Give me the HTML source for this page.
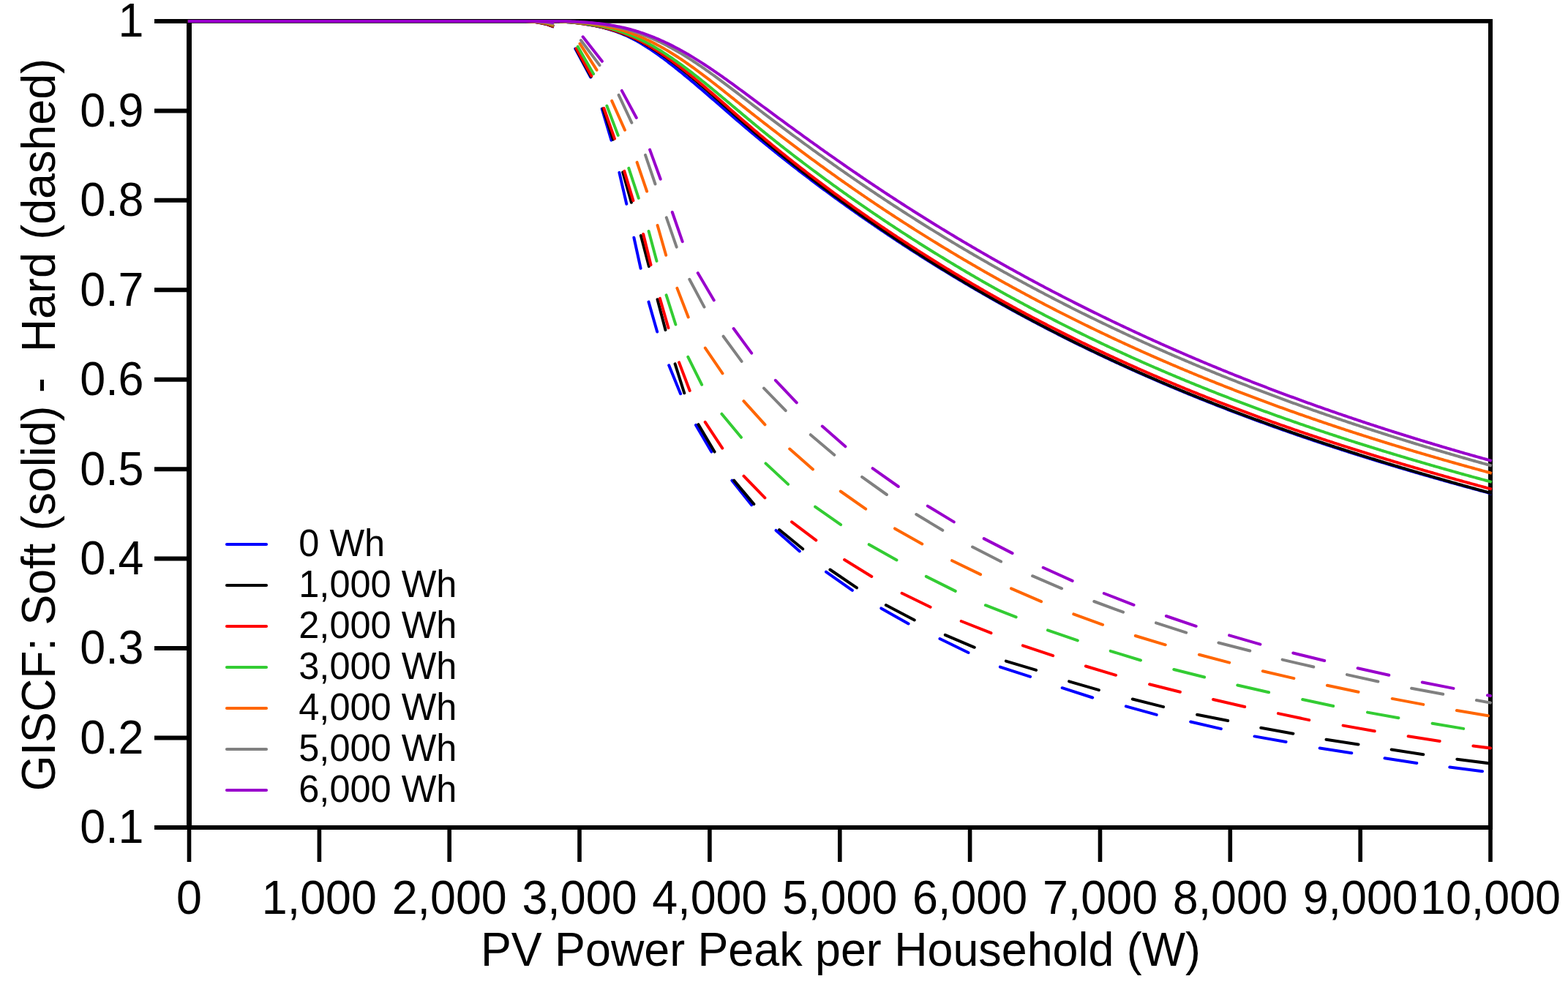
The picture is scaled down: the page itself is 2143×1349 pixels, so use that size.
<!DOCTYPE html><html><head><meta charset="utf-8"><style>html,body{margin:0;padding:0;background:#fff;}svg{display:block;}</style></head><body>
<svg width="2143" height="1349" viewBox="0 0 2143 1349">
<rect width="2143" height="1349" fill="#fff"/>
<g stroke="#000" fill="none" stroke-linecap="butt">
<line x1="258.5" y1="26.0" x2="258.5" y2="1133.9" stroke-width="7"/>
<line x1="2037.0" y1="26.0" x2="2037.0" y2="1133.9" stroke-width="6"/>
<line x1="255.0" y1="28.9" x2="2040.0" y2="28.9" stroke-width="5.9"/>
<line x1="255.0" y1="1131.0" x2="2040.0" y2="1131.0" stroke-width="5.9"/>
<line x1="211" y1="28.9" x2="258.5" y2="28.9" stroke-width="6"/>
<line x1="211" y1="151.4" x2="258.5" y2="151.4" stroke-width="6"/>
<line x1="211" y1="273.8" x2="258.5" y2="273.8" stroke-width="6"/>
<line x1="211" y1="396.3" x2="258.5" y2="396.3" stroke-width="6"/>
<line x1="211" y1="518.7" x2="258.5" y2="518.7" stroke-width="6"/>
<line x1="211" y1="641.2" x2="258.5" y2="641.2" stroke-width="6"/>
<line x1="211" y1="763.6" x2="258.5" y2="763.6" stroke-width="6"/>
<line x1="211" y1="886.1" x2="258.5" y2="886.1" stroke-width="6"/>
<line x1="211" y1="1008.5" x2="258.5" y2="1008.5" stroke-width="6"/>
<line x1="211" y1="1131.0" x2="258.5" y2="1131.0" stroke-width="6"/>
<line x1="258.5" y1="1131.0" x2="258.5" y2="1178" stroke-width="5.6"/>
<line x1="436.4" y1="1131.0" x2="436.4" y2="1178" stroke-width="5.6"/>
<line x1="614.2" y1="1131.0" x2="614.2" y2="1178" stroke-width="5.6"/>
<line x1="792.0" y1="1131.0" x2="792.0" y2="1178" stroke-width="5.6"/>
<line x1="969.9" y1="1131.0" x2="969.9" y2="1178" stroke-width="5.6"/>
<line x1="1147.8" y1="1131.0" x2="1147.8" y2="1178" stroke-width="5.6"/>
<line x1="1325.6" y1="1131.0" x2="1325.6" y2="1178" stroke-width="5.6"/>
<line x1="1503.5" y1="1131.0" x2="1503.5" y2="1178" stroke-width="5.6"/>
<line x1="1681.3" y1="1131.0" x2="1681.3" y2="1178" stroke-width="5.6"/>
<line x1="1859.2" y1="1131.0" x2="1859.2" y2="1178" stroke-width="5.6"/>
<line x1="2037.0" y1="1131.0" x2="2037.0" y2="1178" stroke-width="5.6"/>
</g>
<g font-family="'Liberation Sans', Arial, Helvetica, sans-serif" fill="#000">
<text transform="translate(196.5,50.2) scale(1,1.04)" text-anchor="end" font-size="62.8" xml:space="preserve">1</text>
<text transform="translate(196.5,172.7) scale(1,1.04)" text-anchor="end" font-size="62.8" xml:space="preserve">0.9</text>
<text transform="translate(196.5,295.1) scale(1,1.04)" text-anchor="end" font-size="62.8" xml:space="preserve">0.8</text>
<text transform="translate(196.5,417.6) scale(1,1.04)" text-anchor="end" font-size="62.8" xml:space="preserve">0.7</text>
<text transform="translate(196.5,540.0) scale(1,1.04)" text-anchor="end" font-size="62.8" xml:space="preserve">0.6</text>
<text transform="translate(196.5,662.5) scale(1,1.04)" text-anchor="end" font-size="62.8" xml:space="preserve">0.5</text>
<text transform="translate(196.5,784.9) scale(1,1.04)" text-anchor="end" font-size="62.8" xml:space="preserve">0.4</text>
<text transform="translate(196.5,907.4) scale(1,1.04)" text-anchor="end" font-size="62.8" xml:space="preserve">0.3</text>
<text transform="translate(196.5,1029.8) scale(1,1.04)" text-anchor="end" font-size="62.8" xml:space="preserve">0.2</text>
<text transform="translate(196.5,1152.3) scale(1,1.04)" text-anchor="end" font-size="62.8" xml:space="preserve">0.1</text>
<text transform="translate(258.5,1249.3) scale(1,1.04)" text-anchor="middle" font-size="62.8" xml:space="preserve">0</text>
<text transform="translate(436.4,1249.3) scale(1,1.04)" text-anchor="middle" font-size="62.8" xml:space="preserve">1,000</text>
<text transform="translate(614.2,1249.3) scale(1,1.04)" text-anchor="middle" font-size="62.8" xml:space="preserve">2,000</text>
<text transform="translate(792.0,1249.3) scale(1,1.04)" text-anchor="middle" font-size="62.8" xml:space="preserve">3,000</text>
<text transform="translate(969.9,1249.3) scale(1,1.04)" text-anchor="middle" font-size="62.8" xml:space="preserve">4,000</text>
<text transform="translate(1147.8,1249.3) scale(1,1.04)" text-anchor="middle" font-size="62.8" xml:space="preserve">5,000</text>
<text transform="translate(1325.6,1249.3) scale(1,1.04)" text-anchor="middle" font-size="62.8" xml:space="preserve">6,000</text>
<text transform="translate(1503.5,1249.3) scale(1,1.04)" text-anchor="middle" font-size="62.8" xml:space="preserve">7,000</text>
<text transform="translate(1681.3,1249.3) scale(1,1.04)" text-anchor="middle" font-size="62.8" xml:space="preserve">8,000</text>
<text transform="translate(1859.2,1249.3) scale(1,1.04)" text-anchor="middle" font-size="62.8" xml:space="preserve">9,000</text>
<text transform="translate(2037.0,1249.3) scale(1,1.04)" text-anchor="middle" font-size="62.8" xml:space="preserve">10,000</text>
<text transform="translate(1148.9,1320.4) scale(1,1.04)" text-anchor="middle" font-size="62.8" xml:space="preserve">PV Power Peak per Household (W)</text>
<text transform="translate(75.0,580.6) rotate(-90) scale(1,1.04)" text-anchor="middle" font-size="62.8" xml:space="preserve">GISCF: Soft (solid) -  Hard (dashed)</text>
</g>
<g fill="none" stroke-width="4" stroke-linejoin="round">
<path d="M256.9 28.9 L740.0 28.90 L742.0 28.90 L744.0 28.90 L746.0 28.90 L748.0 28.90 L750.0 28.90 L752.0 28.90 L754.0 28.95 L756.0 29.02 L758.0 29.10 L760.0 29.19 L762.0 29.28 L764.0 29.38 L766.0 29.49 L768.0 29.61 L770.0 29.73 L772.0 29.87 L774.0 30.02 L776.0 30.17 L778.0 30.33 L780.0 30.51 L782.0 30.69 L784.0 30.89 L786.0 31.10 L788.0 31.31 L790.0 31.54 L792.0 31.78 L794.0 32.04 L796.0 32.30 L798.0 32.58 L800.0 32.88 L802.0 33.18 L804.0 33.50 L806.0 33.84 L808.0 34.20 L810.0 34.56 L812.0 34.95 L814.0 35.36 L816.0 35.78 L818.0 36.22 L820.0 36.68 L822.0 37.16 L824.0 37.66 L826.0 38.18 L828.0 38.72 L830.0 39.28 L832.0 39.86 L834.0 40.47 L836.0 41.10 L838.0 41.75 L840.0 42.43 L842.0 43.14 L844.0 43.86 L846.0 44.62 L848.0 45.40 L850.0 46.21 L852.0 47.04 L854.0 47.90 L856.0 48.79 L858.0 49.71 L860.0 50.66 L862.0 51.64 L864.0 52.65 L866.0 53.69 L868.0 54.76 L870.0 55.85 L872.0 56.97 L874.0 58.12 L876.0 59.29 L878.0 60.49 L880.0 61.71 L882.0 62.95 L884.0 64.22 L886.0 65.51 L888.0 66.82 L890.0 68.16 L892.0 69.51 L894.0 70.88 L896.0 72.28 L898.0 73.69 L900.0 75.11 L902.0 76.56 L904.0 78.02 L906.0 79.49 L908.0 80.98 L910.0 82.49 L912.0 84.01 L914.0 85.54 L916.0 87.08 L918.0 88.64 L920.0 90.21 L922.0 91.78 L924.0 93.37 L926.0 94.97 L928.0 96.57 L930.0 98.19 L932.0 99.81 L934.0 101.44 L936.0 103.08 L938.0 104.73 L940.0 106.39 L942.0 108.05 L944.0 109.72 L946.0 111.40 L948.0 113.08 L950.0 114.77 L952.0 116.46 L954.0 118.16 L956.0 119.86 L958.0 121.57 L960.0 123.29 L962.0 125.00 L964.0 126.73 L966.0 128.45 L968.0 130.18 L970.0 131.91 L972.0 133.64 L974.0 135.38 L976.0 137.11 L978.0 138.85 L980.0 140.59 L982.0 142.33 L984.0 144.07 L986.0 145.81 L988.0 147.55 L990.0 149.29 L992.0 151.03 L994.0 152.77 L996.0 154.51 L998.0 156.24 L1000.0 157.98 L1002.0 159.71 L1004.0 161.43 L1006.0 163.16 L1008.0 164.88 L1010.0 166.60 L1012.0 168.31 L1014.0 170.02 L1016.0 171.73 L1018.0 173.43 L1020.0 175.13 L1022.0 176.82 L1024.0 178.51 L1026.0 180.19 L1028.0 181.87 L1030.0 183.54 L1032.0 185.21 L1034.0 186.87 L1036.0 188.53 L1038.0 190.19 L1040.0 191.84 L1042.0 193.49 L1044.0 195.13 L1046.0 196.77 L1048.0 198.41 L1050.0 200.04 L1052.0 201.66 L1054.0 203.28 L1056.0 204.90 L1058.0 206.52 L1060.0 208.13 L1062.0 209.73 L1064.0 211.33 L1066.0 212.93 L1068.0 214.52 L1070.0 216.11 L1072.0 217.69 L1074.0 219.27 L1076.0 220.85 L1078.0 222.42 L1080.0 223.99 L1082.0 225.56 L1084.0 227.12 L1086.0 228.68 L1088.0 230.23 L1090.0 231.78 L1092.0 233.32 L1094.0 234.86 L1096.0 236.40 L1098.0 237.94 L1100.0 239.47 L1102.0 240.99 L1104.0 242.51 L1106.0 244.03 L1108.0 245.55 L1110.0 247.06 L1112.0 248.57 L1114.0 250.07 L1116.0 251.57 L1118.0 253.07 L1120.0 254.56 L1122.0 256.05 L1124.0 257.54 L1126.0 259.02 L1128.0 260.50 L1130.0 261.98 L1132.0 263.45 L1134.0 264.92 L1136.0 266.38 L1138.0 267.84 L1140.0 269.30 L1142.0 270.76 L1144.0 272.21 L1146.0 273.66 L1148.0 275.10 L1150.0 276.54 L1152.0 277.98 L1154.0 279.42 L1156.0 280.85 L1158.0 282.28 L1160.0 283.70 L1162.0 285.13 L1164.0 286.55 L1166.0 287.96 L1168.0 289.37 L1170.0 290.78 L1172.0 292.19 L1174.0 293.59 L1176.0 294.99 L1178.0 296.39 L1180.0 297.78 L1182.0 299.17 L1184.0 300.56 L1186.0 301.94 L1188.0 303.32 L1190.0 304.70 L1192.0 306.08 L1194.0 307.45 L1196.0 308.81 L1198.0 310.18 L1200.0 311.54 L1202.0 312.90 L1204.0 314.26 L1206.0 315.61 L1208.0 316.96 L1210.0 318.30 L1212.0 319.65 L1214.0 320.99 L1216.0 322.32 L1218.0 323.66 L1220.0 324.99 L1222.0 326.31 L1224.0 327.64 L1226.0 328.96 L1228.0 330.28 L1230.0 331.59 L1232.0 332.91 L1234.0 334.22 L1236.0 335.52 L1238.0 336.82 L1240.0 338.13 L1242.0 339.42 L1244.0 340.72 L1246.0 342.01 L1248.0 343.30 L1250.0 344.58 L1252.0 345.86 L1254.0 347.14 L1256.0 348.42 L1258.0 349.69 L1260.0 350.96 L1262.0 352.23 L1264.0 353.49 L1266.0 354.75 L1268.0 356.01 L1270.0 357.27 L1272.0 358.52 L1274.0 359.77 L1276.0 361.02 L1278.0 362.26 L1280.0 363.50 L1282.0 364.74 L1284.0 365.97 L1286.0 367.20 L1288.0 368.43 L1290.0 369.66 L1292.0 370.88 L1294.0 372.10 L1296.0 373.32 L1298.0 374.54 L1300.0 375.75 L1302.0 376.96 L1304.0 378.16 L1306.0 379.37 L1308.0 380.57 L1310.0 381.76 L1312.0 382.96 L1314.0 384.15 L1316.0 385.34 L1318.0 386.53 L1320.0 387.71 L1322.0 388.89 L1324.0 390.07 L1326.0 391.24 L1328.0 392.42 L1330.0 393.58 L1332.0 394.75 L1334.0 395.92 L1336.0 397.08 L1338.0 398.24 L1340.0 399.39 L1342.0 400.54 L1344.0 401.69 L1346.0 402.84 L1348.0 403.99 L1350.0 405.13 L1352.0 406.27 L1354.0 407.41 L1356.0 408.54 L1358.0 409.67 L1360.0 410.80 L1362.0 411.92 L1364.0 413.05 L1366.0 414.17 L1368.0 415.29 L1370.0 416.40 L1372.0 417.51 L1374.0 418.62 L1376.0 419.73 L1378.0 420.84 L1380.0 421.94 L1382.0 423.04 L1384.0 424.13 L1386.0 425.23 L1388.0 426.32 L1390.0 427.41 L1392.0 428.49 L1394.0 429.58 L1396.0 430.66 L1398.0 431.74 L1400.0 432.81 L1402.0 433.89 L1404.0 434.96 L1406.0 436.03 L1408.0 437.09 L1410.0 438.15 L1412.0 439.21 L1414.0 440.27 L1416.0 441.33 L1418.0 442.38 L1420.0 443.43 L1422.0 444.48 L1424.0 445.52 L1426.0 446.57 L1428.0 447.61 L1430.0 448.64 L1432.0 449.68 L1434.0 450.71 L1436.0 451.74 L1438.0 452.77 L1440.0 453.80 L1442.0 454.82 L1444.0 455.84 L1446.0 456.86 L1448.0 457.87 L1450.0 458.89 L1452.0 459.90 L1454.0 460.90 L1456.0 461.91 L1458.0 462.91 L1460.0 463.91 L1462.0 464.91 L1464.0 465.91 L1466.0 466.90 L1468.0 467.89 L1470.0 468.88 L1472.0 469.87 L1474.0 470.85 L1476.0 471.84 L1478.0 472.82 L1480.0 473.79 L1482.0 474.77 L1484.0 475.74 L1486.0 476.71 L1488.0 477.68 L1490.0 478.64 L1492.0 479.61 L1494.0 480.57 L1496.0 481.52 L1498.0 482.48 L1500.0 483.43 L1502.0 484.39 L1504.0 485.33 L1506.0 486.28 L1508.0 487.23 L1510.0 488.17 L1512.0 489.11 L1514.0 490.05 L1516.0 490.98 L1518.0 491.92 L1520.0 492.85 L1522.0 493.78 L1524.0 494.70 L1526.0 495.63 L1528.0 496.55 L1530.0 497.47 L1532.0 498.39 L1534.0 499.30 L1536.0 500.21 L1538.0 501.13 L1540.0 502.03 L1542.0 502.94 L1544.0 503.85 L1546.0 504.75 L1548.0 505.65 L1550.0 506.55 L1552.0 507.44 L1554.0 508.33 L1556.0 509.23 L1558.0 510.12 L1560.0 511.00 L1562.0 511.89 L1564.0 512.77 L1566.0 513.65 L1568.0 514.53 L1570.0 515.41 L1572.0 516.28 L1574.0 517.15 L1576.0 518.02 L1578.0 518.89 L1580.0 519.76 L1582.0 520.62 L1584.0 521.48 L1586.0 522.34 L1588.0 523.20 L1590.0 524.06 L1592.0 524.91 L1594.0 525.76 L1596.0 526.61 L1598.0 527.46 L1600.0 528.31 L1602.0 529.15 L1604.0 529.99 L1606.0 530.83 L1608.0 531.67 L1610.0 532.50 L1612.0 533.34 L1614.0 534.17 L1616.0 535.00 L1618.0 535.83 L1620.0 536.65 L1622.0 537.48 L1624.0 538.30 L1626.0 539.12 L1628.0 539.93 L1630.0 540.75 L1632.0 541.56 L1634.0 542.38 L1636.0 543.19 L1638.0 543.99 L1640.0 544.80 L1642.0 545.60 L1644.0 546.41 L1646.0 547.21 L1648.0 548.01 L1650.0 548.80 L1652.0 549.60 L1654.0 550.39 L1656.0 551.18 L1658.0 551.97 L1660.0 552.76 L1662.0 553.54 L1664.0 554.33 L1666.0 555.11 L1668.0 555.89 L1670.0 556.67 L1672.0 557.44 L1674.0 558.22 L1676.0 558.99 L1678.0 559.76 L1680.0 560.53 L1682.0 561.30 L1684.0 562.06 L1686.0 562.83 L1688.0 563.59 L1690.0 564.35 L1692.0 565.11 L1694.0 565.86 L1696.0 566.62 L1698.0 567.37 L1700.0 568.12 L1702.0 568.87 L1704.0 569.62 L1706.0 570.37 L1708.0 571.11 L1710.0 571.85 L1712.0 572.59 L1714.0 573.33 L1716.0 574.07 L1718.0 574.81 L1720.0 575.54 L1722.0 576.27 L1724.0 577.00 L1726.0 577.73 L1728.0 578.46 L1730.0 579.19 L1732.0 579.91 L1734.0 580.63 L1736.0 581.35 L1738.0 582.07 L1740.0 582.79 L1742.0 583.51 L1744.0 584.22 L1746.0 584.93 L1748.0 585.64 L1750.0 586.35 L1752.0 587.06 L1754.0 587.77 L1756.0 588.47 L1758.0 589.18 L1760.0 589.88 L1762.0 590.58 L1764.0 591.27 L1766.0 591.97 L1768.0 592.67 L1770.0 593.36 L1772.0 594.05 L1774.0 594.74 L1776.0 595.43 L1778.0 596.12 L1780.0 596.80 L1782.0 597.49 L1784.0 598.17 L1786.0 598.85 L1788.0 599.53 L1790.0 600.21 L1792.0 600.89 L1794.0 601.56 L1796.0 602.24 L1798.0 602.91 L1800.0 603.58 L1802.0 604.25 L1804.0 604.92 L1806.0 605.59 L1808.0 606.25 L1810.0 606.91 L1812.0 607.58 L1814.0 608.24 L1816.0 608.90 L1818.0 609.55 L1820.0 610.21 L1822.0 610.87 L1824.0 611.52 L1826.0 612.17 L1828.0 612.82 L1830.0 613.47 L1832.0 614.12 L1834.0 614.77 L1836.0 615.41 L1838.0 616.06 L1840.0 616.70 L1842.0 617.34 L1844.0 617.98 L1846.0 618.62 L1848.0 619.26 L1850.0 619.89 L1852.0 620.53 L1854.0 621.16 L1856.0 621.79 L1858.0 622.42 L1860.0 623.05 L1862.0 623.68 L1864.0 624.31 L1866.0 624.93 L1868.0 625.56 L1870.0 626.18 L1872.0 626.80 L1874.0 627.42 L1876.0 628.04 L1878.0 628.66 L1880.0 629.28 L1882.0 629.89 L1884.0 630.51 L1886.0 631.12 L1888.0 631.73 L1890.0 632.34 L1892.0 632.95 L1894.0 633.56 L1896.0 634.16 L1898.0 634.77 L1900.0 635.37 L1902.0 635.98 L1904.0 636.58 L1906.0 637.18 L1908.0 637.78 L1910.0 638.38 L1912.0 638.98 L1914.0 639.57 L1916.0 640.17 L1918.0 640.76 L1920.0 641.35 L1922.0 641.95 L1924.0 642.54 L1926.0 643.13 L1928.0 643.71 L1930.0 644.30 L1932.0 644.89 L1934.0 645.47 L1936.0 646.06 L1938.0 646.64 L1940.0 647.22 L1942.0 647.80 L1944.0 648.38 L1946.0 648.96 L1948.0 649.54 L1950.0 650.11 L1952.0 650.69 L1954.0 651.26 L1956.0 651.84 L1958.0 652.41 L1960.0 652.98 L1962.0 653.55 L1964.0 654.12 L1966.0 654.69 L1968.0 655.26 L1970.0 655.82 L1972.0 656.39 L1974.0 656.95 L1976.0 657.51 L1978.0 658.08 L1980.0 658.64 L1982.0 659.20 L1984.0 659.76 L1986.0 660.32 L1988.0 660.87 L1990.0 661.43 L1992.0 661.99 L1994.0 662.54 L1996.0 663.09 L1998.0 663.65 L2000.0 664.20 L2002.0 664.75 L2004.0 665.30 L2006.0 665.85 L2008.0 666.40 L2010.0 666.94 L2012.0 667.49 L2014.0 668.04 L2016.0 668.58 L2018.0 669.13 L2020.0 669.67 L2022.0 670.21 L2024.0 670.75 L2026.0 671.29 L2028.0 671.83 L2030.0 672.37 L2032.0 672.91 L2034.0 673.45 L2036.0 673.98 L2037.0 674.25 L2038.9 674.77" stroke="#0000ff" stroke-linecap="butt"/>
<path d="M256.9 28.9 L740.0 28.90 L742.0 28.90 L744.0 28.90 L746.0 28.90 L748.0 28.90 L750.0 28.90 L752.0 28.90 L754.0 28.95 L756.0 29.02 L758.0 29.10 L760.0 29.18 L762.0 29.28 L764.0 29.38 L766.0 29.49 L768.0 29.60 L770.0 29.73 L772.0 29.87 L774.0 30.01 L776.0 30.16 L778.0 30.33 L780.0 30.50 L782.0 30.69 L784.0 30.88 L786.0 31.09 L788.0 31.31 L790.0 31.53 L792.0 31.78 L794.0 32.03 L796.0 32.29 L798.0 32.57 L800.0 32.86 L802.0 33.17 L804.0 33.48 L806.0 33.82 L808.0 34.16 L810.0 34.53 L812.0 34.90 L814.0 35.30 L816.0 35.71 L818.0 36.13 L820.0 36.58 L822.0 37.04 L824.0 37.51 L826.0 38.01 L828.0 38.52 L830.0 39.06 L832.0 39.61 L834.0 40.18 L836.0 40.77 L838.0 41.38 L840.0 42.01 L842.0 42.67 L844.0 43.34 L846.0 44.04 L848.0 44.76 L850.0 45.50 L852.0 46.26 L854.0 47.05 L856.0 47.86 L858.0 48.69 L860.0 49.55 L862.0 50.43 L864.0 51.34 L866.0 52.27 L868.0 53.23 L870.0 54.21 L872.0 55.22 L874.0 56.25 L876.0 57.30 L878.0 58.37 L880.0 59.47 L882.0 60.59 L884.0 61.74 L886.0 62.90 L888.0 64.09 L890.0 65.29 L892.0 66.52 L894.0 67.77 L896.0 69.04 L898.0 70.33 L900.0 71.63 L902.0 72.96 L904.0 74.30 L906.0 75.67 L908.0 77.05 L910.0 78.45 L912.0 79.86 L914.0 81.29 L916.0 82.74 L918.0 84.21 L920.0 85.69 L922.0 87.19 L924.0 88.70 L926.0 90.23 L928.0 91.77 L930.0 93.33 L932.0 94.90 L934.0 96.48 L936.0 98.08 L938.0 99.68 L940.0 101.30 L942.0 102.94 L944.0 104.58 L946.0 106.23 L948.0 107.90 L950.0 109.57 L952.0 111.26 L954.0 112.95 L956.0 114.65 L958.0 116.36 L960.0 118.08 L962.0 119.80 L964.0 121.53 L966.0 123.27 L968.0 125.01 L970.0 126.76 L972.0 128.52 L974.0 130.27 L976.0 132.04 L978.0 133.81 L980.0 135.58 L982.0 137.35 L984.0 139.13 L986.0 140.90 L988.0 142.68 L990.0 144.47 L992.0 146.25 L994.0 148.03 L996.0 149.81 L998.0 151.60 L1000.0 153.38 L1002.0 155.16 L1004.0 156.94 L1006.0 158.71 L1008.0 160.49 L1010.0 162.26 L1012.0 164.03 L1014.0 165.79 L1016.0 167.55 L1018.0 169.30 L1020.0 171.05 L1022.0 172.80 L1024.0 174.54 L1026.0 176.27 L1028.0 178.00 L1030.0 179.72 L1032.0 181.44 L1034.0 183.15 L1036.0 184.86 L1038.0 186.56 L1040.0 188.26 L1042.0 189.95 L1044.0 191.64 L1046.0 193.32 L1048.0 195.00 L1050.0 196.67 L1052.0 198.34 L1054.0 200.00 L1056.0 201.66 L1058.0 203.31 L1060.0 204.96 L1062.0 206.60 L1064.0 208.24 L1066.0 209.87 L1068.0 211.50 L1070.0 213.13 L1072.0 214.75 L1074.0 216.36 L1076.0 217.97 L1078.0 219.58 L1080.0 221.18 L1082.0 222.78 L1084.0 224.37 L1086.0 225.96 L1088.0 227.54 L1090.0 229.12 L1092.0 230.70 L1094.0 232.27 L1096.0 233.83 L1098.0 235.40 L1100.0 236.95 L1102.0 238.51 L1104.0 240.06 L1106.0 241.60 L1108.0 243.14 L1110.0 244.68 L1112.0 246.21 L1114.0 247.74 L1116.0 249.27 L1118.0 250.79 L1120.0 252.31 L1122.0 253.82 L1124.0 255.33 L1126.0 256.84 L1128.0 258.34 L1130.0 259.84 L1132.0 261.33 L1134.0 262.82 L1136.0 264.31 L1138.0 265.79 L1140.0 267.27 L1142.0 268.75 L1144.0 270.22 L1146.0 271.69 L1148.0 273.16 L1150.0 274.62 L1152.0 276.08 L1154.0 277.53 L1156.0 278.98 L1158.0 280.43 L1160.0 281.88 L1162.0 283.32 L1164.0 284.76 L1166.0 286.19 L1168.0 287.62 L1170.0 289.05 L1172.0 290.47 L1174.0 291.89 L1176.0 293.31 L1178.0 294.73 L1180.0 296.14 L1182.0 297.54 L1184.0 298.95 L1186.0 300.35 L1188.0 301.75 L1190.0 303.14 L1192.0 304.53 L1194.0 305.92 L1196.0 307.30 L1198.0 308.68 L1200.0 310.06 L1202.0 311.44 L1204.0 312.81 L1206.0 314.17 L1208.0 315.54 L1210.0 316.90 L1212.0 318.26 L1214.0 319.61 L1216.0 320.96 L1218.0 322.31 L1220.0 323.66 L1222.0 325.00 L1224.0 326.34 L1226.0 327.67 L1228.0 329.00 L1230.0 330.33 L1232.0 331.66 L1234.0 332.98 L1236.0 334.30 L1238.0 335.62 L1240.0 336.93 L1242.0 338.24 L1244.0 339.55 L1246.0 340.85 L1248.0 342.15 L1250.0 343.45 L1252.0 344.74 L1254.0 346.03 L1256.0 347.32 L1258.0 348.60 L1260.0 349.88 L1262.0 351.16 L1264.0 352.44 L1266.0 353.71 L1268.0 354.98 L1270.0 356.24 L1272.0 357.51 L1274.0 358.77 L1276.0 360.02 L1278.0 361.28 L1280.0 362.53 L1282.0 363.77 L1284.0 365.02 L1286.0 366.26 L1288.0 367.50 L1290.0 368.73 L1292.0 369.97 L1294.0 371.20 L1296.0 372.42 L1298.0 373.65 L1300.0 374.87 L1302.0 376.08 L1304.0 377.30 L1306.0 378.51 L1308.0 379.72 L1310.0 380.92 L1312.0 382.13 L1314.0 383.33 L1316.0 384.52 L1318.0 385.72 L1320.0 386.91 L1322.0 388.09 L1324.0 389.28 L1326.0 390.46 L1328.0 391.64 L1330.0 392.82 L1332.0 393.99 L1334.0 395.16 L1336.0 396.33 L1338.0 397.49 L1340.0 398.66 L1342.0 399.81 L1344.0 400.97 L1346.0 402.12 L1348.0 403.27 L1350.0 404.42 L1352.0 405.57 L1354.0 406.71 L1356.0 407.85 L1358.0 408.98 L1360.0 410.12 L1362.0 411.25 L1364.0 412.38 L1366.0 413.50 L1368.0 414.62 L1370.0 415.74 L1372.0 416.86 L1374.0 417.98 L1376.0 419.09 L1378.0 420.20 L1380.0 421.30 L1382.0 422.40 L1384.0 423.51 L1386.0 424.60 L1388.0 425.70 L1390.0 426.79 L1392.0 427.88 L1394.0 428.97 L1396.0 430.05 L1398.0 431.13 L1400.0 432.21 L1402.0 433.29 L1404.0 434.36 L1406.0 435.43 L1408.0 436.50 L1410.0 437.57 L1412.0 438.63 L1414.0 439.69 L1416.0 440.75 L1418.0 441.80 L1420.0 442.85 L1422.0 443.90 L1424.0 444.95 L1426.0 446.00 L1428.0 447.04 L1430.0 448.08 L1432.0 449.12 L1434.0 450.15 L1436.0 451.18 L1438.0 452.21 L1440.0 453.24 L1442.0 454.26 L1444.0 455.28 L1446.0 456.30 L1448.0 457.32 L1450.0 458.33 L1452.0 459.34 L1454.0 460.35 L1456.0 461.36 L1458.0 462.36 L1460.0 463.37 L1462.0 464.36 L1464.0 465.36 L1466.0 466.35 L1468.0 467.35 L1470.0 468.34 L1472.0 469.32 L1474.0 470.31 L1476.0 471.29 L1478.0 472.27 L1480.0 473.24 L1482.0 474.22 L1484.0 475.19 L1486.0 476.16 L1488.0 477.13 L1490.0 478.09 L1492.0 479.06 L1494.0 480.02 L1496.0 480.97 L1498.0 481.93 L1500.0 482.88 L1502.0 483.83 L1504.0 484.78 L1506.0 485.73 L1508.0 486.67 L1510.0 487.61 L1512.0 488.55 L1514.0 489.49 L1516.0 490.42 L1518.0 491.36 L1520.0 492.29 L1522.0 493.21 L1524.0 494.14 L1526.0 495.06 L1528.0 495.98 L1530.0 496.90 L1532.0 497.82 L1534.0 498.73 L1536.0 499.64 L1538.0 500.55 L1540.0 501.46 L1542.0 502.36 L1544.0 503.27 L1546.0 504.17 L1548.0 505.06 L1550.0 505.96 L1552.0 506.85 L1554.0 507.75 L1556.0 508.64 L1558.0 509.52 L1560.0 510.41 L1562.0 511.29 L1564.0 512.17 L1566.0 513.05 L1568.0 513.93 L1570.0 514.80 L1572.0 515.67 L1574.0 516.54 L1576.0 517.41 L1578.0 518.28 L1580.0 519.14 L1582.0 520.00 L1584.0 520.86 L1586.0 521.72 L1588.0 522.58 L1590.0 523.43 L1592.0 524.28 L1594.0 525.13 L1596.0 525.98 L1598.0 526.82 L1600.0 527.66 L1602.0 528.51 L1604.0 529.34 L1606.0 530.18 L1608.0 531.02 L1610.0 531.85 L1612.0 532.68 L1614.0 533.51 L1616.0 534.34 L1618.0 535.16 L1620.0 535.98 L1622.0 536.80 L1624.0 537.62 L1626.0 538.44 L1628.0 539.26 L1630.0 540.07 L1632.0 540.88 L1634.0 541.69 L1636.0 542.50 L1638.0 543.30 L1640.0 544.10 L1642.0 544.91 L1644.0 545.71 L1646.0 546.50 L1648.0 547.30 L1650.0 548.09 L1652.0 548.88 L1654.0 549.67 L1656.0 550.46 L1658.0 551.25 L1660.0 552.03 L1662.0 552.82 L1664.0 553.60 L1666.0 554.38 L1668.0 555.15 L1670.0 555.93 L1672.0 556.70 L1674.0 557.47 L1676.0 558.24 L1678.0 559.01 L1680.0 559.78 L1682.0 560.54 L1684.0 561.30 L1686.0 562.07 L1688.0 562.82 L1690.0 563.58 L1692.0 564.34 L1694.0 565.09 L1696.0 565.84 L1698.0 566.59 L1700.0 567.34 L1702.0 568.09 L1704.0 568.83 L1706.0 569.58 L1708.0 570.32 L1710.0 571.06 L1712.0 571.80 L1714.0 572.53 L1716.0 573.27 L1718.0 574.00 L1720.0 574.73 L1722.0 575.46 L1724.0 576.19 L1726.0 576.92 L1728.0 577.64 L1730.0 578.37 L1732.0 579.09 L1734.0 579.81 L1736.0 580.53 L1738.0 581.24 L1740.0 581.96 L1742.0 582.67 L1744.0 583.38 L1746.0 584.10 L1748.0 584.80 L1750.0 585.51 L1752.0 586.22 L1754.0 586.92 L1756.0 587.62 L1758.0 588.33 L1760.0 589.02 L1762.0 589.72 L1764.0 590.42 L1766.0 591.11 L1768.0 591.81 L1770.0 592.50 L1772.0 593.19 L1774.0 593.88 L1776.0 594.57 L1778.0 595.25 L1780.0 595.94 L1782.0 596.62 L1784.0 597.30 L1786.0 597.98 L1788.0 598.66 L1790.0 599.34 L1792.0 600.01 L1794.0 600.69 L1796.0 601.36 L1798.0 602.03 L1800.0 602.70 L1802.0 603.37 L1804.0 604.03 L1806.0 604.70 L1808.0 605.36 L1810.0 606.03 L1812.0 606.69 L1814.0 607.35 L1816.0 608.01 L1818.0 608.67 L1820.0 609.32 L1822.0 609.98 L1824.0 610.63 L1826.0 611.28 L1828.0 611.93 L1830.0 612.58 L1832.0 613.23 L1834.0 613.88 L1836.0 614.52 L1838.0 615.17 L1840.0 615.81 L1842.0 616.45 L1844.0 617.09 L1846.0 617.73 L1848.0 618.37 L1850.0 619.00 L1852.0 619.64 L1854.0 620.27 L1856.0 620.91 L1858.0 621.54 L1860.0 622.17 L1862.0 622.80 L1864.0 623.42 L1866.0 624.05 L1868.0 624.68 L1870.0 625.30 L1872.0 625.92 L1874.0 626.54 L1876.0 627.16 L1878.0 627.78 L1880.0 628.40 L1882.0 629.02 L1884.0 629.64 L1886.0 630.25 L1888.0 630.86 L1890.0 631.48 L1892.0 632.09 L1894.0 632.70 L1896.0 633.31 L1898.0 633.91 L1900.0 634.52 L1902.0 635.13 L1904.0 635.73 L1906.0 636.34 L1908.0 636.94 L1910.0 637.54 L1912.0 638.14 L1914.0 638.74 L1916.0 639.34 L1918.0 639.93 L1920.0 640.53 L1922.0 641.13 L1924.0 641.72 L1926.0 642.31 L1928.0 642.91 L1930.0 643.50 L1932.0 644.09 L1934.0 644.68 L1936.0 645.26 L1938.0 645.85 L1940.0 646.44 L1942.0 647.02 L1944.0 647.61 L1946.0 648.19 L1948.0 648.77 L1950.0 649.35 L1952.0 649.93 L1954.0 650.51 L1956.0 651.09 L1958.0 651.67 L1960.0 652.24 L1962.0 652.82 L1964.0 653.39 L1966.0 653.97 L1968.0 654.54 L1970.0 655.11 L1972.0 655.69 L1974.0 656.26 L1976.0 656.83 L1978.0 657.39 L1980.0 657.96 L1982.0 658.53 L1984.0 659.09 L1986.0 659.66 L1988.0 660.22 L1990.0 660.79 L1992.0 661.35 L1994.0 661.91 L1996.0 662.47 L1998.0 663.03 L2000.0 663.59 L2002.0 664.15 L2004.0 664.71 L2006.0 665.27 L2008.0 665.82 L2010.0 666.38 L2012.0 666.93 L2014.0 667.49 L2016.0 668.04 L2018.0 668.59 L2020.0 669.15 L2022.0 669.70 L2024.0 670.25 L2026.0 670.80 L2028.0 671.35 L2030.0 671.90 L2032.0 672.44 L2034.0 672.99 L2036.0 673.54 L2037.0 673.81 L2038.9 674.34" stroke="#000000" stroke-linecap="butt"/>
<path d="M256.9 28.9 L740.0 28.90 L742.0 28.90 L744.0 28.90 L746.0 28.90 L748.0 28.90 L750.0 28.90 L752.0 28.90 L754.0 28.93 L756.0 29.00 L758.0 29.08 L760.0 29.16 L762.0 29.25 L764.0 29.35 L766.0 29.45 L768.0 29.56 L770.0 29.69 L772.0 29.82 L774.0 29.96 L776.0 30.11 L778.0 30.27 L780.0 30.43 L782.0 30.61 L784.0 30.80 L786.0 31.00 L788.0 31.21 L790.0 31.43 L792.0 31.66 L794.0 31.91 L796.0 32.16 L798.0 32.43 L800.0 32.72 L802.0 33.01 L804.0 33.32 L806.0 33.64 L808.0 33.98 L810.0 34.33 L812.0 34.69 L814.0 35.08 L816.0 35.47 L818.0 35.89 L820.0 36.32 L822.0 36.76 L824.0 37.23 L826.0 37.71 L828.0 38.21 L830.0 38.73 L832.0 39.26 L834.0 39.82 L836.0 40.39 L838.0 40.99 L840.0 41.60 L842.0 42.24 L844.0 42.89 L846.0 43.57 L848.0 44.27 L850.0 44.99 L852.0 45.74 L854.0 46.50 L856.0 47.29 L858.0 48.10 L860.0 48.94 L862.0 49.80 L864.0 50.68 L866.0 51.59 L868.0 52.53 L870.0 53.49 L872.0 54.47 L874.0 55.48 L876.0 56.50 L878.0 57.56 L880.0 58.63 L882.0 59.73 L884.0 60.85 L886.0 61.99 L888.0 63.15 L890.0 64.33 L892.0 65.53 L894.0 66.75 L896.0 68.00 L898.0 69.26 L900.0 70.54 L902.0 71.84 L904.0 73.16 L906.0 74.49 L908.0 75.85 L910.0 77.22 L912.0 78.61 L914.0 80.01 L916.0 81.43 L918.0 82.87 L920.0 84.33 L922.0 85.79 L924.0 87.28 L926.0 88.78 L928.0 90.29 L930.0 91.82 L932.0 93.36 L934.0 94.91 L936.0 96.48 L938.0 98.06 L940.0 99.65 L942.0 101.25 L944.0 102.86 L946.0 104.49 L948.0 106.12 L950.0 107.77 L952.0 109.42 L954.0 111.08 L956.0 112.76 L958.0 114.44 L960.0 116.12 L962.0 117.82 L964.0 119.52 L966.0 121.23 L968.0 122.94 L970.0 124.67 L972.0 126.39 L974.0 128.12 L976.0 129.86 L978.0 131.60 L980.0 133.34 L982.0 135.09 L984.0 136.84 L986.0 138.59 L988.0 140.35 L990.0 142.10 L992.0 143.86 L994.0 145.62 L996.0 147.38 L998.0 149.14 L1000.0 150.89 L1002.0 152.65 L1004.0 154.41 L1006.0 156.16 L1008.0 157.92 L1010.0 159.67 L1012.0 161.41 L1014.0 163.16 L1016.0 164.90 L1018.0 166.64 L1020.0 168.37 L1022.0 170.10 L1024.0 171.82 L1026.0 173.53 L1028.0 175.25 L1030.0 176.95 L1032.0 178.66 L1034.0 180.35 L1036.0 182.04 L1038.0 183.73 L1040.0 185.41 L1042.0 187.09 L1044.0 188.76 L1046.0 190.43 L1048.0 192.09 L1050.0 193.75 L1052.0 195.40 L1054.0 197.05 L1056.0 198.69 L1058.0 200.33 L1060.0 201.96 L1062.0 203.59 L1064.0 205.22 L1066.0 206.84 L1068.0 208.45 L1070.0 210.06 L1072.0 211.67 L1074.0 213.27 L1076.0 214.87 L1078.0 216.46 L1080.0 218.05 L1082.0 219.63 L1084.0 221.21 L1086.0 222.79 L1088.0 224.36 L1090.0 225.93 L1092.0 227.49 L1094.0 229.05 L1096.0 230.60 L1098.0 232.15 L1100.0 233.70 L1102.0 235.24 L1104.0 236.78 L1106.0 238.31 L1108.0 239.84 L1110.0 241.37 L1112.0 242.89 L1114.0 244.41 L1116.0 245.92 L1118.0 247.43 L1120.0 248.94 L1122.0 250.44 L1124.0 251.94 L1126.0 253.43 L1128.0 254.93 L1130.0 256.41 L1132.0 257.90 L1134.0 259.38 L1136.0 260.85 L1138.0 262.33 L1140.0 263.80 L1142.0 265.26 L1144.0 266.73 L1146.0 268.18 L1148.0 269.64 L1150.0 271.09 L1152.0 272.54 L1154.0 273.99 L1156.0 275.43 L1158.0 276.87 L1160.0 278.30 L1162.0 279.73 L1164.0 281.16 L1166.0 282.59 L1168.0 284.01 L1170.0 285.43 L1172.0 286.84 L1174.0 288.25 L1176.0 289.66 L1178.0 291.07 L1180.0 292.47 L1182.0 293.87 L1184.0 295.26 L1186.0 296.65 L1188.0 298.04 L1190.0 299.43 L1192.0 300.81 L1194.0 302.19 L1196.0 303.57 L1198.0 304.94 L1200.0 306.31 L1202.0 307.67 L1204.0 309.03 L1206.0 310.39 L1208.0 311.75 L1210.0 313.10 L1212.0 314.45 L1214.0 315.80 L1216.0 317.14 L1218.0 318.48 L1220.0 319.82 L1222.0 321.15 L1224.0 322.48 L1226.0 323.81 L1228.0 325.13 L1230.0 326.46 L1232.0 327.77 L1234.0 329.09 L1236.0 330.40 L1238.0 331.71 L1240.0 333.01 L1242.0 334.32 L1244.0 335.61 L1246.0 336.91 L1248.0 338.20 L1250.0 339.49 L1252.0 340.78 L1254.0 342.06 L1256.0 343.34 L1258.0 344.62 L1260.0 345.90 L1262.0 347.17 L1264.0 348.43 L1266.0 349.70 L1268.0 350.96 L1270.0 352.22 L1272.0 353.48 L1274.0 354.73 L1276.0 355.98 L1278.0 357.23 L1280.0 358.47 L1282.0 359.71 L1284.0 360.95 L1286.0 362.18 L1288.0 363.42 L1290.0 364.65 L1292.0 365.87 L1294.0 367.09 L1296.0 368.31 L1298.0 369.53 L1300.0 370.75 L1302.0 371.96 L1304.0 373.17 L1306.0 374.37 L1308.0 375.57 L1310.0 376.77 L1312.0 377.97 L1314.0 379.16 L1316.0 380.35 L1318.0 381.54 L1320.0 382.73 L1322.0 383.91 L1324.0 385.09 L1326.0 386.26 L1328.0 387.44 L1330.0 388.61 L1332.0 389.78 L1334.0 390.94 L1336.0 392.10 L1338.0 393.26 L1340.0 394.42 L1342.0 395.57 L1344.0 396.72 L1346.0 397.87 L1348.0 399.02 L1350.0 400.16 L1352.0 401.30 L1354.0 402.44 L1356.0 403.57 L1358.0 404.70 L1360.0 405.83 L1362.0 406.95 L1364.0 408.08 L1366.0 409.20 L1368.0 410.32 L1370.0 411.43 L1372.0 412.54 L1374.0 413.65 L1376.0 414.76 L1378.0 415.86 L1380.0 416.96 L1382.0 418.06 L1384.0 419.16 L1386.0 420.25 L1388.0 421.34 L1390.0 422.43 L1392.0 423.51 L1394.0 424.60 L1396.0 425.68 L1398.0 426.75 L1400.0 427.83 L1402.0 428.90 L1404.0 429.97 L1406.0 431.03 L1408.0 432.10 L1410.0 433.16 L1412.0 434.22 L1414.0 435.27 L1416.0 436.33 L1418.0 437.38 L1420.0 438.43 L1422.0 439.47 L1424.0 440.52 L1426.0 441.56 L1428.0 442.59 L1430.0 443.63 L1432.0 444.66 L1434.0 445.69 L1436.0 446.72 L1438.0 447.75 L1440.0 448.77 L1442.0 449.79 L1444.0 450.81 L1446.0 451.82 L1448.0 452.84 L1450.0 453.85 L1452.0 454.85 L1454.0 455.86 L1456.0 456.86 L1458.0 457.86 L1460.0 458.86 L1462.0 459.85 L1464.0 460.85 L1466.0 461.84 L1468.0 462.83 L1470.0 463.81 L1472.0 464.79 L1474.0 465.78 L1476.0 466.75 L1478.0 467.73 L1480.0 468.70 L1482.0 469.67 L1484.0 470.64 L1486.0 471.61 L1488.0 472.57 L1490.0 473.53 L1492.0 474.49 L1494.0 475.45 L1496.0 476.40 L1498.0 477.36 L1500.0 478.31 L1502.0 479.25 L1504.0 480.20 L1506.0 481.14 L1508.0 482.08 L1510.0 483.02 L1512.0 483.96 L1514.0 484.89 L1516.0 485.82 L1518.0 486.75 L1520.0 487.68 L1522.0 488.60 L1524.0 489.52 L1526.0 490.44 L1528.0 491.36 L1530.0 492.28 L1532.0 493.19 L1534.0 494.10 L1536.0 495.01 L1538.0 495.91 L1540.0 496.82 L1542.0 497.72 L1544.0 498.62 L1546.0 499.52 L1548.0 500.41 L1550.0 501.31 L1552.0 502.20 L1554.0 503.09 L1556.0 503.97 L1558.0 504.86 L1560.0 505.74 L1562.0 506.62 L1564.0 507.50 L1566.0 508.37 L1568.0 509.25 L1570.0 510.12 L1572.0 510.99 L1574.0 511.85 L1576.0 512.72 L1578.0 513.58 L1580.0 514.44 L1582.0 515.30 L1584.0 516.16 L1586.0 517.01 L1588.0 517.87 L1590.0 518.72 L1592.0 519.57 L1594.0 520.41 L1596.0 521.26 L1598.0 522.10 L1600.0 522.94 L1602.0 523.78 L1604.0 524.61 L1606.0 525.45 L1608.0 526.28 L1610.0 527.11 L1612.0 527.94 L1614.0 528.76 L1616.0 529.59 L1618.0 530.41 L1620.0 531.23 L1622.0 532.05 L1624.0 532.86 L1626.0 533.68 L1628.0 534.49 L1630.0 535.30 L1632.0 536.11 L1634.0 536.92 L1636.0 537.72 L1638.0 538.52 L1640.0 539.32 L1642.0 540.12 L1644.0 540.92 L1646.0 541.71 L1648.0 542.51 L1650.0 543.30 L1652.0 544.09 L1654.0 544.87 L1656.0 545.66 L1658.0 546.44 L1660.0 547.22 L1662.0 548.00 L1664.0 548.78 L1666.0 549.56 L1668.0 550.33 L1670.0 551.11 L1672.0 551.88 L1674.0 552.64 L1676.0 553.41 L1678.0 554.18 L1680.0 554.94 L1682.0 555.70 L1684.0 556.46 L1686.0 557.22 L1688.0 557.98 L1690.0 558.73 L1692.0 559.48 L1694.0 560.23 L1696.0 560.98 L1698.0 561.73 L1700.0 562.48 L1702.0 563.22 L1704.0 563.96 L1706.0 564.70 L1708.0 565.44 L1710.0 566.18 L1712.0 566.91 L1714.0 567.65 L1716.0 568.38 L1718.0 569.11 L1720.0 569.84 L1722.0 570.57 L1724.0 571.29 L1726.0 572.02 L1728.0 572.74 L1730.0 573.46 L1732.0 574.18 L1734.0 574.89 L1736.0 575.61 L1738.0 576.32 L1740.0 577.04 L1742.0 577.75 L1744.0 578.45 L1746.0 579.16 L1748.0 579.87 L1750.0 580.57 L1752.0 581.27 L1754.0 581.98 L1756.0 582.67 L1758.0 583.37 L1760.0 584.07 L1762.0 584.76 L1764.0 585.46 L1766.0 586.15 L1768.0 586.84 L1770.0 587.53 L1772.0 588.21 L1774.0 588.90 L1776.0 589.58 L1778.0 590.27 L1780.0 590.95 L1782.0 591.63 L1784.0 592.31 L1786.0 592.98 L1788.0 593.66 L1790.0 594.33 L1792.0 595.00 L1794.0 595.67 L1796.0 596.34 L1798.0 597.01 L1800.0 597.68 L1802.0 598.34 L1804.0 599.01 L1806.0 599.67 L1808.0 600.33 L1810.0 600.99 L1812.0 601.65 L1814.0 602.30 L1816.0 602.96 L1818.0 603.61 L1820.0 604.26 L1822.0 604.91 L1824.0 605.56 L1826.0 606.21 L1828.0 606.86 L1830.0 607.50 L1832.0 608.15 L1834.0 608.79 L1836.0 609.43 L1838.0 610.07 L1840.0 610.71 L1842.0 611.35 L1844.0 611.98 L1846.0 612.62 L1848.0 613.25 L1850.0 613.89 L1852.0 614.52 L1854.0 615.15 L1856.0 615.78 L1858.0 616.40 L1860.0 617.03 L1862.0 617.65 L1864.0 618.28 L1866.0 618.90 L1868.0 619.52 L1870.0 620.14 L1872.0 620.76 L1874.0 621.38 L1876.0 621.99 L1878.0 622.61 L1880.0 623.22 L1882.0 623.83 L1884.0 624.44 L1886.0 625.05 L1888.0 625.66 L1890.0 626.27 L1892.0 626.88 L1894.0 627.48 L1896.0 628.09 L1898.0 628.69 L1900.0 629.29 L1902.0 629.89 L1904.0 630.49 L1906.0 631.09 L1908.0 631.69 L1910.0 632.29 L1912.0 632.88 L1914.0 633.48 L1916.0 634.07 L1918.0 634.66 L1920.0 635.25 L1922.0 635.84 L1924.0 636.43 L1926.0 637.02 L1928.0 637.61 L1930.0 638.19 L1932.0 638.78 L1934.0 639.36 L1936.0 639.94 L1938.0 640.52 L1940.0 641.11 L1942.0 641.68 L1944.0 642.26 L1946.0 642.84 L1948.0 643.42 L1950.0 643.99 L1952.0 644.57 L1954.0 645.14 L1956.0 645.71 L1958.0 646.29 L1960.0 646.86 L1962.0 647.43 L1964.0 648.00 L1966.0 648.56 L1968.0 649.13 L1970.0 649.70 L1972.0 650.26 L1974.0 650.83 L1976.0 651.39 L1978.0 651.95 L1980.0 652.51 L1982.0 653.07 L1984.0 653.63 L1986.0 654.19 L1988.0 654.75 L1990.0 655.31 L1992.0 655.86 L1994.0 656.42 L1996.0 656.97 L1998.0 657.53 L2000.0 658.08 L2002.0 658.63 L2004.0 659.18 L2006.0 659.73 L2008.0 660.28 L2010.0 660.83 L2012.0 661.38 L2014.0 661.93 L2016.0 662.47 L2018.0 663.02 L2020.0 663.56 L2022.0 664.11 L2024.0 664.65 L2026.0 665.19 L2028.0 665.74 L2030.0 666.28 L2032.0 666.82 L2034.0 667.36 L2036.0 667.90 L2037.0 668.17 L2038.9 668.69" stroke="#ff0000" stroke-linecap="butt"/>
<path d="M256.9 28.9 L740.0 28.90 L742.0 28.90 L744.0 28.90 L746.0 28.90 L748.0 28.90 L750.0 28.90 L752.0 28.90 L754.0 28.92 L756.0 28.98 L758.0 29.05 L760.0 29.12 L762.0 29.21 L764.0 29.29 L766.0 29.39 L768.0 29.49 L770.0 29.60 L772.0 29.72 L774.0 29.85 L776.0 29.99 L778.0 30.13 L780.0 30.28 L782.0 30.45 L784.0 30.62 L786.0 30.80 L788.0 30.99 L790.0 31.19 L792.0 31.40 L794.0 31.63 L796.0 31.86 L798.0 32.10 L800.0 32.36 L802.0 32.63 L804.0 32.91 L806.0 33.21 L808.0 33.51 L810.0 33.84 L812.0 34.17 L814.0 34.52 L816.0 34.88 L818.0 35.26 L820.0 35.66 L822.0 36.07 L824.0 36.49 L826.0 36.94 L828.0 37.40 L830.0 37.87 L832.0 38.37 L834.0 38.88 L836.0 39.41 L838.0 39.96 L840.0 40.52 L842.0 41.11 L844.0 41.72 L846.0 42.34 L848.0 42.99 L850.0 43.66 L852.0 44.34 L854.0 45.05 L856.0 45.79 L858.0 46.54 L860.0 47.31 L862.0 48.11 L864.0 48.94 L866.0 49.78 L868.0 50.65 L870.0 51.54 L872.0 52.46 L874.0 53.40 L876.0 54.37 L878.0 55.35 L880.0 56.36 L882.0 57.39 L884.0 58.44 L886.0 59.52 L888.0 60.61 L890.0 61.73 L892.0 62.86 L894.0 64.02 L896.0 65.19 L898.0 66.38 L900.0 67.59 L902.0 68.82 L904.0 70.07 L906.0 71.33 L908.0 72.62 L910.0 73.91 L912.0 75.23 L914.0 76.56 L916.0 77.90 L918.0 79.27 L920.0 80.64 L922.0 82.03 L924.0 83.44 L926.0 84.85 L928.0 86.29 L930.0 87.73 L932.0 89.19 L934.0 90.65 L936.0 92.13 L938.0 93.63 L940.0 95.13 L942.0 96.64 L944.0 98.17 L946.0 99.70 L948.0 101.25 L950.0 102.80 L952.0 104.36 L954.0 105.93 L956.0 107.51 L958.0 109.10 L960.0 110.70 L962.0 112.30 L964.0 113.91 L966.0 115.53 L968.0 117.15 L970.0 118.78 L972.0 120.42 L974.0 122.06 L976.0 123.71 L978.0 125.36 L980.0 127.01 L982.0 128.67 L984.0 130.34 L986.0 132.00 L988.0 133.67 L990.0 135.35 L992.0 137.02 L994.0 138.70 L996.0 140.38 L998.0 142.06 L1000.0 143.74 L1002.0 145.42 L1004.0 147.10 L1006.0 148.79 L1008.0 150.47 L1010.0 152.15 L1012.0 153.83 L1014.0 155.51 L1016.0 157.19 L1018.0 158.87 L1020.0 160.54 L1022.0 162.22 L1024.0 163.89 L1026.0 165.55 L1028.0 167.21 L1030.0 168.87 L1032.0 170.53 L1034.0 172.18 L1036.0 173.82 L1038.0 175.46 L1040.0 177.10 L1042.0 178.73 L1044.0 180.36 L1046.0 181.98 L1048.0 183.60 L1050.0 185.22 L1052.0 186.83 L1054.0 188.43 L1056.0 190.03 L1058.0 191.63 L1060.0 193.22 L1062.0 194.81 L1064.0 196.40 L1066.0 197.98 L1068.0 199.56 L1070.0 201.13 L1072.0 202.70 L1074.0 204.26 L1076.0 205.82 L1078.0 207.38 L1080.0 208.93 L1082.0 210.48 L1084.0 212.02 L1086.0 213.56 L1088.0 215.10 L1090.0 216.63 L1092.0 218.16 L1094.0 219.69 L1096.0 221.21 L1098.0 222.73 L1100.0 224.24 L1102.0 225.75 L1104.0 227.26 L1106.0 228.76 L1108.0 230.26 L1110.0 231.75 L1112.0 233.25 L1114.0 234.73 L1116.0 236.22 L1118.0 237.70 L1120.0 239.18 L1122.0 240.65 L1124.0 242.12 L1126.0 243.59 L1128.0 245.05 L1130.0 246.51 L1132.0 247.97 L1134.0 249.42 L1136.0 250.87 L1138.0 252.32 L1140.0 253.76 L1142.0 255.20 L1144.0 256.64 L1146.0 258.07 L1148.0 259.51 L1150.0 260.93 L1152.0 262.36 L1154.0 263.78 L1156.0 265.20 L1158.0 266.61 L1160.0 268.02 L1162.0 269.43 L1164.0 270.84 L1166.0 272.24 L1168.0 273.64 L1170.0 275.03 L1172.0 276.43 L1174.0 277.82 L1176.0 279.20 L1178.0 280.59 L1180.0 281.97 L1182.0 283.34 L1184.0 284.72 L1186.0 286.09 L1188.0 287.46 L1190.0 288.82 L1192.0 290.19 L1194.0 291.54 L1196.0 292.90 L1198.0 294.25 L1200.0 295.60 L1202.0 296.95 L1204.0 298.29 L1206.0 299.64 L1208.0 300.97 L1210.0 302.31 L1212.0 303.64 L1214.0 304.97 L1216.0 306.30 L1218.0 307.62 L1220.0 308.94 L1222.0 310.25 L1224.0 311.57 L1226.0 312.88 L1228.0 314.19 L1230.0 315.49 L1232.0 316.80 L1234.0 318.09 L1236.0 319.39 L1238.0 320.68 L1240.0 321.97 L1242.0 323.26 L1244.0 324.55 L1246.0 325.83 L1248.0 327.11 L1250.0 328.38 L1252.0 329.66 L1254.0 330.93 L1256.0 332.19 L1258.0 333.46 L1260.0 334.72 L1262.0 335.98 L1264.0 337.23 L1266.0 338.48 L1268.0 339.73 L1270.0 340.98 L1272.0 342.23 L1274.0 343.47 L1276.0 344.71 L1278.0 345.94 L1280.0 347.17 L1282.0 348.40 L1284.0 349.63 L1286.0 350.86 L1288.0 352.08 L1290.0 353.30 L1292.0 354.51 L1294.0 355.73 L1296.0 356.94 L1298.0 358.14 L1300.0 359.35 L1302.0 360.55 L1304.0 361.75 L1306.0 362.95 L1308.0 364.14 L1310.0 365.33 L1312.0 366.52 L1314.0 367.71 L1316.0 368.89 L1318.0 370.07 L1320.0 371.25 L1322.0 372.42 L1324.0 373.59 L1326.0 374.76 L1328.0 375.93 L1330.0 377.09 L1332.0 378.25 L1334.0 379.41 L1336.0 380.57 L1338.0 381.72 L1340.0 382.87 L1342.0 384.02 L1344.0 385.17 L1346.0 386.31 L1348.0 387.45 L1350.0 388.59 L1352.0 389.72 L1354.0 390.85 L1356.0 391.98 L1358.0 393.11 L1360.0 394.23 L1362.0 395.35 L1364.0 396.47 L1366.0 397.59 L1368.0 398.70 L1370.0 399.81 L1372.0 400.92 L1374.0 402.03 L1376.0 403.13 L1378.0 404.23 L1380.0 405.33 L1382.0 406.43 L1384.0 407.52 L1386.0 408.61 L1388.0 409.70 L1390.0 410.78 L1392.0 411.87 L1394.0 412.95 L1396.0 414.03 L1398.0 415.10 L1400.0 416.17 L1402.0 417.24 L1404.0 418.31 L1406.0 419.38 L1408.0 420.44 L1410.0 421.50 L1412.0 422.56 L1414.0 423.61 L1416.0 424.67 L1418.0 425.72 L1420.0 426.76 L1422.0 427.81 L1424.0 428.85 L1426.0 429.89 L1428.0 430.93 L1430.0 431.97 L1432.0 433.00 L1434.0 434.03 L1436.0 435.06 L1438.0 436.09 L1440.0 437.11 L1442.0 438.13 L1444.0 439.15 L1446.0 440.17 L1448.0 441.18 L1450.0 442.19 L1452.0 443.20 L1454.0 444.21 L1456.0 445.21 L1458.0 446.22 L1460.0 447.22 L1462.0 448.21 L1464.0 449.21 L1466.0 450.20 L1468.0 451.19 L1470.0 452.18 L1472.0 453.17 L1474.0 454.15 L1476.0 455.13 L1478.0 456.11 L1480.0 457.09 L1482.0 458.06 L1484.0 459.03 L1486.0 460.00 L1488.0 460.97 L1490.0 461.94 L1492.0 462.90 L1494.0 463.86 L1496.0 464.82 L1498.0 465.77 L1500.0 466.73 L1502.0 467.68 L1504.0 468.63 L1506.0 469.58 L1508.0 470.52 L1510.0 471.46 L1512.0 472.40 L1514.0 473.34 L1516.0 474.28 L1518.0 475.21 L1520.0 476.14 L1522.0 477.07 L1524.0 478.00 L1526.0 478.93 L1528.0 479.85 L1530.0 480.77 L1532.0 481.69 L1534.0 482.60 L1536.0 483.52 L1538.0 484.43 L1540.0 485.34 L1542.0 486.25 L1544.0 487.15 L1546.0 488.06 L1548.0 488.96 L1550.0 489.86 L1552.0 490.75 L1554.0 491.65 L1556.0 492.54 L1558.0 493.43 L1560.0 494.32 L1562.0 495.21 L1564.0 496.09 L1566.0 496.98 L1568.0 497.86 L1570.0 498.73 L1572.0 499.61 L1574.0 500.48 L1576.0 501.36 L1578.0 502.23 L1580.0 503.10 L1582.0 503.96 L1584.0 504.83 L1586.0 505.69 L1588.0 506.55 L1590.0 507.40 L1592.0 508.26 L1594.0 509.11 L1596.0 509.97 L1598.0 510.82 L1600.0 511.66 L1602.0 512.51 L1604.0 513.35 L1606.0 514.20 L1608.0 515.04 L1610.0 515.87 L1612.0 516.71 L1614.0 517.54 L1616.0 518.38 L1618.0 519.21 L1620.0 520.03 L1622.0 520.86 L1624.0 521.69 L1626.0 522.51 L1628.0 523.33 L1630.0 524.15 L1632.0 524.96 L1634.0 525.78 L1636.0 526.59 L1638.0 527.40 L1640.0 528.21 L1642.0 529.02 L1644.0 529.82 L1646.0 530.63 L1648.0 531.43 L1650.0 532.23 L1652.0 533.03 L1654.0 533.82 L1656.0 534.62 L1658.0 535.41 L1660.0 536.20 L1662.0 536.99 L1664.0 537.78 L1666.0 538.56 L1668.0 539.34 L1670.0 540.13 L1672.0 540.91 L1674.0 541.68 L1676.0 542.46 L1678.0 543.23 L1680.0 544.01 L1682.0 544.78 L1684.0 545.55 L1686.0 546.31 L1688.0 547.08 L1690.0 547.84 L1692.0 548.60 L1694.0 549.36 L1696.0 550.12 L1698.0 550.88 L1700.0 551.63 L1702.0 552.39 L1704.0 553.14 L1706.0 553.89 L1708.0 554.64 L1710.0 555.38 L1712.0 556.13 L1714.0 556.87 L1716.0 557.61 L1718.0 558.35 L1720.0 559.09 L1722.0 559.83 L1724.0 560.56 L1726.0 561.29 L1728.0 562.02 L1730.0 562.75 L1732.0 563.48 L1734.0 564.21 L1736.0 564.93 L1738.0 565.66 L1740.0 566.38 L1742.0 567.10 L1744.0 567.81 L1746.0 568.53 L1748.0 569.25 L1750.0 569.96 L1752.0 570.67 L1754.0 571.38 L1756.0 572.09 L1758.0 572.80 L1760.0 573.50 L1762.0 574.21 L1764.0 574.91 L1766.0 575.61 L1768.0 576.31 L1770.0 577.01 L1772.0 577.70 L1774.0 578.40 L1776.0 579.09 L1778.0 579.78 L1780.0 580.47 L1782.0 581.16 L1784.0 581.85 L1786.0 582.53 L1788.0 583.22 L1790.0 583.90 L1792.0 584.58 L1794.0 585.26 L1796.0 585.94 L1798.0 586.61 L1800.0 587.29 L1802.0 587.96 L1804.0 588.63 L1806.0 589.30 L1808.0 589.97 L1810.0 590.64 L1812.0 591.31 L1814.0 591.97 L1816.0 592.64 L1818.0 593.30 L1820.0 593.96 L1822.0 594.62 L1824.0 595.27 L1826.0 595.93 L1828.0 596.59 L1830.0 597.24 L1832.0 597.89 L1834.0 598.54 L1836.0 599.19 L1838.0 599.84 L1840.0 600.49 L1842.0 601.13 L1844.0 601.78 L1846.0 602.42 L1848.0 603.06 L1850.0 603.70 L1852.0 604.34 L1854.0 604.98 L1856.0 605.61 L1858.0 606.25 L1860.0 606.88 L1862.0 607.51 L1864.0 608.14 L1866.0 608.77 L1868.0 609.40 L1870.0 610.03 L1872.0 610.65 L1874.0 611.28 L1876.0 611.90 L1878.0 612.52 L1880.0 613.14 L1882.0 613.76 L1884.0 614.38 L1886.0 615.00 L1888.0 615.61 L1890.0 616.23 L1892.0 616.84 L1894.0 617.45 L1896.0 618.06 L1898.0 618.67 L1900.0 619.28 L1902.0 619.88 L1904.0 620.49 L1906.0 621.09 L1908.0 621.70 L1910.0 622.30 L1912.0 622.90 L1914.0 623.50 L1916.0 624.10 L1918.0 624.70 L1920.0 625.29 L1922.0 625.89 L1924.0 626.48 L1926.0 627.08 L1928.0 627.67 L1930.0 628.26 L1932.0 628.85 L1934.0 629.44 L1936.0 630.02 L1938.0 630.61 L1940.0 631.19 L1942.0 631.78 L1944.0 632.36 L1946.0 632.94 L1948.0 633.52 L1950.0 634.10 L1952.0 634.68 L1954.0 635.26 L1956.0 635.83 L1958.0 636.41 L1960.0 636.98 L1962.0 637.56 L1964.0 638.13 L1966.0 638.70 L1968.0 639.27 L1970.0 639.84 L1972.0 640.41 L1974.0 640.97 L1976.0 641.54 L1978.0 642.11 L1980.0 642.67 L1982.0 643.23 L1984.0 643.79 L1986.0 644.36 L1988.0 644.92 L1990.0 645.47 L1992.0 646.03 L1994.0 646.59 L1996.0 647.15 L1998.0 647.70 L2000.0 648.26 L2002.0 648.81 L2004.0 649.36 L2006.0 649.91 L2008.0 650.46 L2010.0 651.01 L2012.0 651.56 L2014.0 652.11 L2016.0 652.66 L2018.0 653.20 L2020.0 653.75 L2022.0 654.29 L2024.0 654.83 L2026.0 655.38 L2028.0 655.92 L2030.0 656.46 L2032.0 657.00 L2034.0 657.54 L2036.0 658.07 L2037.0 658.34 L2038.9 658.86" stroke="#33cc33" stroke-linecap="butt"/>
<path d="M256.9 28.9 L740.0 28.90 L742.0 28.90 L744.0 28.90 L746.0 28.90 L748.0 28.90 L750.0 28.90 L752.0 28.90 L754.0 28.90 L756.0 28.90 L758.0 28.90 L760.0 28.95 L762.0 29.02 L764.0 29.09 L766.0 29.16 L768.0 29.25 L770.0 29.34 L772.0 29.43 L774.0 29.54 L776.0 29.65 L778.0 29.77 L780.0 29.89 L782.0 30.03 L784.0 30.17 L786.0 30.32 L788.0 30.48 L790.0 30.65 L792.0 30.82 L794.0 31.01 L796.0 31.20 L798.0 31.41 L800.0 31.62 L802.0 31.85 L804.0 32.09 L806.0 32.34 L808.0 32.60 L810.0 32.87 L812.0 33.15 L814.0 33.45 L816.0 33.76 L818.0 34.08 L820.0 34.42 L822.0 34.77 L824.0 35.13 L826.0 35.51 L828.0 35.90 L830.0 36.31 L832.0 36.74 L834.0 37.18 L836.0 37.64 L838.0 38.11 L840.0 38.60 L842.0 39.11 L844.0 39.63 L846.0 40.18 L848.0 40.74 L850.0 41.32 L852.0 41.92 L854.0 42.53 L856.0 43.17 L858.0 43.83 L860.0 44.51 L862.0 45.21 L864.0 45.92 L866.0 46.66 L868.0 47.42 L870.0 48.20 L872.0 49.00 L874.0 49.82 L876.0 50.66 L878.0 51.52 L880.0 52.40 L882.0 53.30 L884.0 54.22 L886.0 55.15 L888.0 56.11 L890.0 57.09 L892.0 58.08 L894.0 59.09 L896.0 60.13 L898.0 61.18 L900.0 62.25 L902.0 63.33 L904.0 64.44 L906.0 65.56 L908.0 66.71 L910.0 67.87 L912.0 69.05 L914.0 70.24 L916.0 71.46 L918.0 72.69 L920.0 73.93 L922.0 75.20 L924.0 76.48 L926.0 77.77 L928.0 79.08 L930.0 80.41 L932.0 81.75 L934.0 83.10 L936.0 84.47 L938.0 85.85 L940.0 87.25 L942.0 88.65 L944.0 90.07 L946.0 91.50 L948.0 92.94 L950.0 94.40 L952.0 95.86 L954.0 97.33 L956.0 98.81 L958.0 100.30 L960.0 101.81 L962.0 103.31 L964.0 104.83 L966.0 106.36 L968.0 107.89 L970.0 109.43 L972.0 110.97 L974.0 112.53 L976.0 114.08 L978.0 115.65 L980.0 117.21 L982.0 118.79 L984.0 120.36 L986.0 121.94 L988.0 123.53 L990.0 125.11 L992.0 126.70 L994.0 128.30 L996.0 129.89 L998.0 131.48 L1000.0 133.08 L1002.0 134.68 L1004.0 136.27 L1006.0 137.87 L1008.0 139.46 L1010.0 141.06 L1012.0 142.65 L1014.0 144.24 L1016.0 145.83 L1018.0 147.42 L1020.0 149.01 L1022.0 150.59 L1024.0 152.17 L1026.0 153.75 L1028.0 155.32 L1030.0 156.89 L1032.0 158.47 L1034.0 160.03 L1036.0 161.60 L1038.0 163.16 L1040.0 164.72 L1042.0 166.28 L1044.0 167.84 L1046.0 169.39 L1048.0 170.94 L1050.0 172.49 L1052.0 174.04 L1054.0 175.58 L1056.0 177.13 L1058.0 178.66 L1060.0 180.20 L1062.0 181.73 L1064.0 183.27 L1066.0 184.79 L1068.0 186.32 L1070.0 187.84 L1072.0 189.37 L1074.0 190.88 L1076.0 192.40 L1078.0 193.91 L1080.0 195.42 L1082.0 196.93 L1084.0 198.44 L1086.0 199.94 L1088.0 201.44 L1090.0 202.94 L1092.0 204.43 L1094.0 205.93 L1096.0 207.42 L1098.0 208.90 L1100.0 210.39 L1102.0 211.87 L1104.0 213.35 L1106.0 214.82 L1108.0 216.30 L1110.0 217.77 L1112.0 219.23 L1114.0 220.70 L1116.0 222.16 L1118.0 223.62 L1120.0 225.08 L1122.0 226.53 L1124.0 227.98 L1126.0 229.43 L1128.0 230.88 L1130.0 232.32 L1132.0 233.76 L1134.0 235.19 L1136.0 236.63 L1138.0 238.06 L1140.0 239.49 L1142.0 240.91 L1144.0 242.34 L1146.0 243.76 L1148.0 245.17 L1150.0 246.59 L1152.0 248.00 L1154.0 249.40 L1156.0 250.81 L1158.0 252.21 L1160.0 253.61 L1162.0 255.01 L1164.0 256.40 L1166.0 257.79 L1168.0 259.18 L1170.0 260.56 L1172.0 261.94 L1174.0 263.32 L1176.0 264.69 L1178.0 266.07 L1180.0 267.44 L1182.0 268.80 L1184.0 270.17 L1186.0 271.53 L1188.0 272.89 L1190.0 274.24 L1192.0 275.59 L1194.0 276.94 L1196.0 278.29 L1198.0 279.63 L1200.0 280.97 L1202.0 282.31 L1204.0 283.64 L1206.0 284.98 L1208.0 286.31 L1210.0 287.63 L1212.0 288.96 L1214.0 290.28 L1216.0 291.59 L1218.0 292.91 L1220.0 294.22 L1222.0 295.53 L1224.0 296.84 L1226.0 298.14 L1228.0 299.44 L1230.0 300.74 L1232.0 302.04 L1234.0 303.33 L1236.0 304.62 L1238.0 305.91 L1240.0 307.19 L1242.0 308.47 L1244.0 309.75 L1246.0 311.03 L1248.0 312.30 L1250.0 313.57 L1252.0 314.84 L1254.0 316.10 L1256.0 317.36 L1258.0 318.62 L1260.0 319.88 L1262.0 321.13 L1264.0 322.39 L1266.0 323.63 L1268.0 324.88 L1270.0 326.12 L1272.0 327.36 L1274.0 328.60 L1276.0 329.84 L1278.0 331.07 L1280.0 332.30 L1282.0 333.52 L1284.0 334.75 L1286.0 335.97 L1288.0 337.19 L1290.0 338.41 L1292.0 339.62 L1294.0 340.83 L1296.0 342.04 L1298.0 343.24 L1300.0 344.45 L1302.0 345.65 L1304.0 346.85 L1306.0 348.04 L1308.0 349.23 L1310.0 350.42 L1312.0 351.61 L1314.0 352.80 L1316.0 353.98 L1318.0 355.16 L1320.0 356.33 L1322.0 357.51 L1324.0 358.68 L1326.0 359.85 L1328.0 361.02 L1330.0 362.18 L1332.0 363.34 L1334.0 364.50 L1336.0 365.66 L1338.0 366.81 L1340.0 367.96 L1342.0 369.11 L1344.0 370.26 L1346.0 371.40 L1348.0 372.54 L1350.0 373.68 L1352.0 374.81 L1354.0 375.95 L1356.0 377.08 L1358.0 378.21 L1360.0 379.33 L1362.0 380.46 L1364.0 381.58 L1366.0 382.70 L1368.0 383.81 L1370.0 384.93 L1372.0 386.04 L1374.0 387.15 L1376.0 388.25 L1378.0 389.35 L1380.0 390.46 L1382.0 391.55 L1384.0 392.65 L1386.0 393.74 L1388.0 394.84 L1390.0 395.93 L1392.0 397.01 L1394.0 398.10 L1396.0 399.18 L1398.0 400.26 L1400.0 401.33 L1402.0 402.41 L1404.0 403.48 L1406.0 404.55 L1408.0 405.62 L1410.0 406.68 L1412.0 407.74 L1414.0 408.80 L1416.0 409.86 L1418.0 410.92 L1420.0 411.97 L1422.0 413.02 L1424.0 414.07 L1426.0 415.11 L1428.0 416.16 L1430.0 417.20 L1432.0 418.24 L1434.0 419.27 L1436.0 420.31 L1438.0 421.34 L1440.0 422.37 L1442.0 423.40 L1444.0 424.42 L1446.0 425.44 L1448.0 426.47 L1450.0 427.48 L1452.0 428.50 L1454.0 429.51 L1456.0 430.52 L1458.0 431.53 L1460.0 432.54 L1462.0 433.54 L1464.0 434.55 L1466.0 435.54 L1468.0 436.54 L1470.0 437.54 L1472.0 438.53 L1474.0 439.52 L1476.0 440.51 L1478.0 441.50 L1480.0 442.48 L1482.0 443.46 L1484.0 444.44 L1486.0 445.42 L1488.0 446.39 L1490.0 447.37 L1492.0 448.34 L1494.0 449.31 L1496.0 450.27 L1498.0 451.24 L1500.0 452.20 L1502.0 453.16 L1504.0 454.12 L1506.0 455.07 L1508.0 456.03 L1510.0 456.98 L1512.0 457.93 L1514.0 458.87 L1516.0 459.82 L1518.0 460.76 L1520.0 461.70 L1522.0 462.64 L1524.0 463.57 L1526.0 464.51 L1528.0 465.44 L1530.0 466.37 L1532.0 467.30 L1534.0 468.22 L1536.0 469.15 L1538.0 470.07 L1540.0 470.99 L1542.0 471.90 L1544.0 472.82 L1546.0 473.73 L1548.0 474.64 L1550.0 475.55 L1552.0 476.46 L1554.0 477.36 L1556.0 478.27 L1558.0 479.17 L1560.0 480.07 L1562.0 480.96 L1564.0 481.86 L1566.0 482.75 L1568.0 483.64 L1570.0 484.53 L1572.0 485.41 L1574.0 486.30 L1576.0 487.18 L1578.0 488.06 L1580.0 488.94 L1582.0 489.82 L1584.0 490.69 L1586.0 491.56 L1588.0 492.43 L1590.0 493.30 L1592.0 494.17 L1594.0 495.03 L1596.0 495.90 L1598.0 496.76 L1600.0 497.61 L1602.0 498.47 L1604.0 499.33 L1606.0 500.18 L1608.0 501.03 L1610.0 501.88 L1612.0 502.72 L1614.0 503.57 L1616.0 504.41 L1618.0 505.25 L1620.0 506.09 L1622.0 506.93 L1624.0 507.77 L1626.0 508.60 L1628.0 509.43 L1630.0 510.26 L1632.0 511.09 L1634.0 511.91 L1636.0 512.74 L1638.0 513.56 L1640.0 514.38 L1642.0 515.20 L1644.0 516.02 L1646.0 516.83 L1648.0 517.64 L1650.0 518.46 L1652.0 519.26 L1654.0 520.07 L1656.0 520.88 L1658.0 521.68 L1660.0 522.48 L1662.0 523.28 L1664.0 524.08 L1666.0 524.88 L1668.0 525.67 L1670.0 526.47 L1672.0 527.26 L1674.0 528.05 L1676.0 528.83 L1678.0 529.62 L1680.0 530.40 L1682.0 531.19 L1684.0 531.97 L1686.0 532.75 L1688.0 533.52 L1690.0 534.30 L1692.0 535.07 L1694.0 535.84 L1696.0 536.61 L1698.0 537.38 L1700.0 538.15 L1702.0 538.91 L1704.0 539.68 L1706.0 540.44 L1708.0 541.20 L1710.0 541.95 L1712.0 542.71 L1714.0 543.47 L1716.0 544.22 L1718.0 544.97 L1720.0 545.72 L1722.0 546.47 L1724.0 547.21 L1726.0 547.96 L1728.0 548.70 L1730.0 549.44 L1732.0 550.18 L1734.0 550.92 L1736.0 551.65 L1738.0 552.39 L1740.0 553.12 L1742.0 553.85 L1744.0 554.58 L1746.0 555.31 L1748.0 556.04 L1750.0 556.76 L1752.0 557.49 L1754.0 558.21 L1756.0 558.93 L1758.0 559.65 L1760.0 560.36 L1762.0 561.08 L1764.0 561.79 L1766.0 562.50 L1768.0 563.21 L1770.0 563.92 L1772.0 564.63 L1774.0 565.34 L1776.0 566.04 L1778.0 566.74 L1780.0 567.44 L1782.0 568.14 L1784.0 568.84 L1786.0 569.54 L1788.0 570.23 L1790.0 570.93 L1792.0 571.62 L1794.0 572.31 L1796.0 573.00 L1798.0 573.68 L1800.0 574.37 L1802.0 575.05 L1804.0 575.74 L1806.0 576.42 L1808.0 577.10 L1810.0 577.78 L1812.0 578.45 L1814.0 579.13 L1816.0 579.80 L1818.0 580.48 L1820.0 581.15 L1822.0 581.82 L1824.0 582.49 L1826.0 583.15 L1828.0 583.82 L1830.0 584.48 L1832.0 585.14 L1834.0 585.80 L1836.0 586.46 L1838.0 587.12 L1840.0 587.78 L1842.0 588.43 L1844.0 589.09 L1846.0 589.74 L1848.0 590.39 L1850.0 591.04 L1852.0 591.69 L1854.0 592.34 L1856.0 592.98 L1858.0 593.63 L1860.0 594.27 L1862.0 594.91 L1864.0 595.55 L1866.0 596.19 L1868.0 596.83 L1870.0 597.47 L1872.0 598.10 L1874.0 598.73 L1876.0 599.37 L1878.0 600.00 L1880.0 600.63 L1882.0 601.25 L1884.0 601.88 L1886.0 602.51 L1888.0 603.13 L1890.0 603.75 L1892.0 604.38 L1894.0 605.00 L1896.0 605.62 L1898.0 606.23 L1900.0 606.85 L1902.0 607.47 L1904.0 608.08 L1906.0 608.69 L1908.0 609.30 L1910.0 609.91 L1912.0 610.52 L1914.0 611.13 L1916.0 611.74 L1918.0 612.34 L1920.0 612.95 L1922.0 613.55 L1924.0 614.15 L1926.0 614.75 L1928.0 615.35 L1930.0 615.95 L1932.0 616.55 L1934.0 617.14 L1936.0 617.74 L1938.0 618.33 L1940.0 618.92 L1942.0 619.51 L1944.0 620.10 L1946.0 620.69 L1948.0 621.28 L1950.0 621.86 L1952.0 622.45 L1954.0 623.03 L1956.0 623.62 L1958.0 624.20 L1960.0 624.78 L1962.0 625.36 L1964.0 625.94 L1966.0 626.51 L1968.0 627.09 L1970.0 627.66 L1972.0 628.24 L1974.0 628.81 L1976.0 629.38 L1978.0 629.95 L1980.0 630.52 L1982.0 631.09 L1984.0 631.66 L1986.0 632.22 L1988.0 632.79 L1990.0 633.35 L1992.0 633.92 L1994.0 634.48 L1996.0 635.04 L1998.0 635.60 L2000.0 636.16 L2002.0 636.71 L2004.0 637.27 L2006.0 637.83 L2008.0 638.38 L2010.0 638.94 L2012.0 639.49 L2014.0 640.04 L2016.0 640.59 L2018.0 641.14 L2020.0 641.69 L2022.0 642.24 L2024.0 642.78 L2026.0 643.33 L2028.0 643.87 L2030.0 644.42 L2032.0 644.96 L2034.0 645.50 L2036.0 646.04 L2037.0 646.31 L2038.9 646.83" stroke="#ff6600" stroke-linecap="butt"/>
<path d="M256.9 28.9 L740.0 28.90 L742.0 28.90 L744.0 28.90 L746.0 28.90 L748.0 28.90 L750.0 28.90 L752.0 28.90 L754.0 28.90 L756.0 28.90 L758.0 28.90 L760.0 28.90 L762.0 28.93 L764.0 28.98 L766.0 29.03 L768.0 29.09 L770.0 29.16 L772.0 29.23 L774.0 29.31 L776.0 29.39 L778.0 29.47 L780.0 29.57 L782.0 29.67 L784.0 29.77 L786.0 29.88 L788.0 30.00 L790.0 30.12 L792.0 30.26 L794.0 30.39 L796.0 30.54 L798.0 30.69 L800.0 30.85 L802.0 31.02 L804.0 31.20 L806.0 31.39 L808.0 31.59 L810.0 31.80 L812.0 32.01 L814.0 32.24 L816.0 32.48 L818.0 32.73 L820.0 33.00 L822.0 33.27 L824.0 33.56 L826.0 33.86 L828.0 34.17 L830.0 34.50 L832.0 34.84 L834.0 35.19 L836.0 35.56 L838.0 35.95 L840.0 36.35 L842.0 36.76 L844.0 37.19 L846.0 37.64 L848.0 38.10 L850.0 38.58 L852.0 39.08 L854.0 39.60 L856.0 40.13 L858.0 40.68 L860.0 41.26 L862.0 41.85 L864.0 42.46 L866.0 43.08 L868.0 43.73 L870.0 44.40 L872.0 45.08 L874.0 45.78 L876.0 46.51 L878.0 47.25 L880.0 48.01 L882.0 48.78 L884.0 49.58 L886.0 50.39 L888.0 51.22 L890.0 52.07 L892.0 52.94 L894.0 53.82 L896.0 54.72 L898.0 55.64 L900.0 56.58 L902.0 57.53 L904.0 58.50 L906.0 59.49 L908.0 60.50 L910.0 61.52 L912.0 62.56 L914.0 63.61 L916.0 64.68 L918.0 65.77 L920.0 66.88 L922.0 68.00 L924.0 69.14 L926.0 70.29 L928.0 71.46 L930.0 72.65 L932.0 73.85 L934.0 75.06 L936.0 76.30 L938.0 77.54 L940.0 78.80 L942.0 80.07 L944.0 81.36 L946.0 82.66 L948.0 83.97 L950.0 85.29 L952.0 86.62 L954.0 87.97 L956.0 89.33 L958.0 90.70 L960.0 92.08 L962.0 93.47 L964.0 94.87 L966.0 96.27 L968.0 97.69 L970.0 99.12 L972.0 100.55 L974.0 102.00 L976.0 103.45 L978.0 104.91 L980.0 106.37 L982.0 107.85 L984.0 109.33 L986.0 110.81 L988.0 112.30 L990.0 113.80 L992.0 115.30 L994.0 116.81 L996.0 118.32 L998.0 119.83 L1000.0 121.35 L1002.0 122.87 L1004.0 124.40 L1006.0 125.93 L1008.0 127.46 L1010.0 128.99 L1012.0 130.52 L1014.0 132.06 L1016.0 133.59 L1018.0 135.13 L1020.0 136.67 L1022.0 138.21 L1024.0 139.74 L1026.0 141.28 L1028.0 142.82 L1030.0 144.35 L1032.0 145.88 L1034.0 147.41 L1036.0 148.94 L1038.0 150.47 L1040.0 151.99 L1042.0 153.52 L1044.0 155.04 L1046.0 156.56 L1048.0 158.07 L1050.0 159.59 L1052.0 161.10 L1054.0 162.61 L1056.0 164.12 L1058.0 165.63 L1060.0 167.13 L1062.0 168.64 L1064.0 170.14 L1066.0 171.64 L1068.0 173.13 L1070.0 174.63 L1072.0 176.12 L1074.0 177.61 L1076.0 179.10 L1078.0 180.59 L1080.0 182.07 L1082.0 183.55 L1084.0 185.03 L1086.0 186.51 L1088.0 187.99 L1090.0 189.46 L1092.0 190.93 L1094.0 192.40 L1096.0 193.86 L1098.0 195.33 L1100.0 196.79 L1102.0 198.25 L1104.0 199.71 L1106.0 201.16 L1108.0 202.62 L1110.0 204.07 L1112.0 205.51 L1114.0 206.96 L1116.0 208.40 L1118.0 209.84 L1120.0 211.28 L1122.0 212.72 L1124.0 214.15 L1126.0 215.58 L1128.0 217.01 L1130.0 218.44 L1132.0 219.86 L1134.0 221.28 L1136.0 222.70 L1138.0 224.12 L1140.0 225.53 L1142.0 226.94 L1144.0 228.35 L1146.0 229.76 L1148.0 231.16 L1150.0 232.56 L1152.0 233.96 L1154.0 235.36 L1156.0 236.75 L1158.0 238.14 L1160.0 239.53 L1162.0 240.91 L1164.0 242.30 L1166.0 243.68 L1168.0 245.05 L1170.0 246.43 L1172.0 247.80 L1174.0 249.17 L1176.0 250.53 L1178.0 251.90 L1180.0 253.26 L1182.0 254.62 L1184.0 255.97 L1186.0 257.32 L1188.0 258.67 L1190.0 260.02 L1192.0 261.36 L1194.0 262.71 L1196.0 264.04 L1198.0 265.38 L1200.0 266.71 L1202.0 268.04 L1204.0 269.37 L1206.0 270.70 L1208.0 272.02 L1210.0 273.34 L1212.0 274.66 L1214.0 275.97 L1216.0 277.28 L1218.0 278.59 L1220.0 279.90 L1222.0 281.20 L1224.0 282.50 L1226.0 283.80 L1228.0 285.10 L1230.0 286.39 L1232.0 287.68 L1234.0 288.97 L1236.0 290.25 L1238.0 291.53 L1240.0 292.81 L1242.0 294.09 L1244.0 295.37 L1246.0 296.64 L1248.0 297.91 L1250.0 299.17 L1252.0 300.44 L1254.0 301.70 L1256.0 302.96 L1258.0 304.21 L1260.0 305.47 L1262.0 306.72 L1264.0 307.97 L1266.0 309.21 L1268.0 310.45 L1270.0 311.69 L1272.0 312.93 L1274.0 314.17 L1276.0 315.40 L1278.0 316.63 L1280.0 317.86 L1282.0 319.08 L1284.0 320.31 L1286.0 321.53 L1288.0 322.74 L1290.0 323.96 L1292.0 325.17 L1294.0 326.38 L1296.0 327.59 L1298.0 328.79 L1300.0 330.00 L1302.0 331.20 L1304.0 332.39 L1306.0 333.59 L1308.0 334.78 L1310.0 335.97 L1312.0 337.16 L1314.0 338.34 L1316.0 339.53 L1318.0 340.71 L1320.0 341.88 L1322.0 343.06 L1324.0 344.23 L1326.0 345.40 L1328.0 346.57 L1330.0 347.73 L1332.0 348.90 L1334.0 350.06 L1336.0 351.21 L1338.0 352.37 L1340.0 353.52 L1342.0 354.67 L1344.0 355.82 L1346.0 356.97 L1348.0 358.11 L1350.0 359.25 L1352.0 360.39 L1354.0 361.53 L1356.0 362.66 L1358.0 363.79 L1360.0 364.92 L1362.0 366.04 L1364.0 367.17 L1366.0 368.29 L1368.0 369.41 L1370.0 370.53 L1372.0 371.64 L1374.0 372.75 L1376.0 373.86 L1378.0 374.97 L1380.0 376.08 L1382.0 377.18 L1384.0 378.28 L1386.0 379.38 L1388.0 380.47 L1390.0 381.57 L1392.0 382.66 L1394.0 383.75 L1396.0 384.83 L1398.0 385.92 L1400.0 387.00 L1402.0 388.08 L1404.0 389.15 L1406.0 390.23 L1408.0 391.30 L1410.0 392.37 L1412.0 393.44 L1414.0 394.51 L1416.0 395.57 L1418.0 396.63 L1420.0 397.69 L1422.0 398.75 L1424.0 399.80 L1426.0 400.85 L1428.0 401.90 L1430.0 402.95 L1432.0 404.00 L1434.0 405.04 L1436.0 406.08 L1438.0 407.12 L1440.0 408.15 L1442.0 409.19 L1444.0 410.22 L1446.0 411.25 L1448.0 412.28 L1450.0 413.30 L1452.0 414.33 L1454.0 415.35 L1456.0 416.37 L1458.0 417.38 L1460.0 418.40 L1462.0 419.41 L1464.0 420.42 L1466.0 421.43 L1468.0 422.43 L1470.0 423.44 L1472.0 424.44 L1474.0 425.44 L1476.0 426.43 L1478.0 427.43 L1480.0 428.42 L1482.0 429.41 L1484.0 430.40 L1486.0 431.38 L1488.0 432.37 L1490.0 433.35 L1492.0 434.33 L1494.0 435.31 L1496.0 436.28 L1498.0 437.26 L1500.0 438.23 L1502.0 439.20 L1504.0 440.17 L1506.0 441.13 L1508.0 442.09 L1510.0 443.05 L1512.0 444.01 L1514.0 444.97 L1516.0 445.92 L1518.0 446.88 L1520.0 447.83 L1522.0 448.78 L1524.0 449.72 L1526.0 450.67 L1528.0 451.61 L1530.0 452.55 L1532.0 453.49 L1534.0 454.42 L1536.0 455.36 L1538.0 456.29 L1540.0 457.22 L1542.0 458.15 L1544.0 459.07 L1546.0 460.00 L1548.0 460.92 L1550.0 461.84 L1552.0 462.76 L1554.0 463.67 L1556.0 464.59 L1558.0 465.50 L1560.0 466.41 L1562.0 467.32 L1564.0 468.22 L1566.0 469.13 L1568.0 470.03 L1570.0 470.93 L1572.0 471.83 L1574.0 472.73 L1576.0 473.62 L1578.0 474.51 L1580.0 475.40 L1582.0 476.29 L1584.0 477.18 L1586.0 478.06 L1588.0 478.95 L1590.0 479.83 L1592.0 480.70 L1594.0 481.58 L1596.0 482.46 L1598.0 483.33 L1600.0 484.20 L1602.0 485.07 L1604.0 485.94 L1606.0 486.80 L1608.0 487.67 L1610.0 488.53 L1612.0 489.39 L1614.0 490.25 L1616.0 491.10 L1618.0 491.96 L1620.0 492.81 L1622.0 493.66 L1624.0 494.51 L1626.0 495.36 L1628.0 496.20 L1630.0 497.04 L1632.0 497.88 L1634.0 498.72 L1636.0 499.56 L1638.0 500.40 L1640.0 501.23 L1642.0 502.06 L1644.0 502.89 L1646.0 503.72 L1648.0 504.55 L1650.0 505.37 L1652.0 506.20 L1654.0 507.02 L1656.0 507.84 L1658.0 508.66 L1660.0 509.47 L1662.0 510.29 L1664.0 511.10 L1666.0 511.91 L1668.0 512.72 L1670.0 513.53 L1672.0 514.33 L1674.0 515.13 L1676.0 515.94 L1678.0 516.74 L1680.0 517.54 L1682.0 518.33 L1684.0 519.13 L1686.0 519.92 L1688.0 520.71 L1690.0 521.50 L1692.0 522.29 L1694.0 523.08 L1696.0 523.86 L1698.0 524.64 L1700.0 525.42 L1702.0 526.20 L1704.0 526.98 L1706.0 527.76 L1708.0 528.53 L1710.0 529.31 L1712.0 530.08 L1714.0 530.85 L1716.0 531.61 L1718.0 532.38 L1720.0 533.14 L1722.0 533.91 L1724.0 534.67 L1726.0 535.43 L1728.0 536.19 L1730.0 536.94 L1732.0 537.70 L1734.0 538.45 L1736.0 539.20 L1738.0 539.95 L1740.0 540.70 L1742.0 541.45 L1744.0 542.19 L1746.0 542.93 L1748.0 543.68 L1750.0 544.42 L1752.0 545.15 L1754.0 545.89 L1756.0 546.63 L1758.0 547.36 L1760.0 548.09 L1762.0 548.82 L1764.0 549.55 L1766.0 550.28 L1768.0 551.01 L1770.0 551.73 L1772.0 552.45 L1774.0 553.17 L1776.0 553.89 L1778.0 554.61 L1780.0 555.33 L1782.0 556.04 L1784.0 556.76 L1786.0 557.47 L1788.0 558.18 L1790.0 558.89 L1792.0 559.60 L1794.0 560.30 L1796.0 561.01 L1798.0 561.71 L1800.0 562.41 L1802.0 563.11 L1804.0 563.81 L1806.0 564.51 L1808.0 565.20 L1810.0 565.90 L1812.0 566.59 L1814.0 567.28 L1816.0 567.97 L1818.0 568.66 L1820.0 569.35 L1822.0 570.03 L1824.0 570.72 L1826.0 571.40 L1828.0 572.08 L1830.0 572.76 L1832.0 573.44 L1834.0 574.11 L1836.0 574.79 L1838.0 575.46 L1840.0 576.14 L1842.0 576.81 L1844.0 577.48 L1846.0 578.14 L1848.0 578.81 L1850.0 579.48 L1852.0 580.14 L1854.0 580.80 L1856.0 581.46 L1858.0 582.12 L1860.0 582.78 L1862.0 583.44 L1864.0 584.10 L1866.0 584.75 L1868.0 585.40 L1870.0 586.06 L1872.0 586.71 L1874.0 587.36 L1876.0 588.00 L1878.0 588.65 L1880.0 589.30 L1882.0 589.94 L1884.0 590.58 L1886.0 591.22 L1888.0 591.86 L1890.0 592.50 L1892.0 593.14 L1894.0 593.77 L1896.0 594.41 L1898.0 595.04 L1900.0 595.67 L1902.0 596.30 L1904.0 596.93 L1906.0 597.56 L1908.0 598.19 L1910.0 598.81 L1912.0 599.44 L1914.0 600.06 L1916.0 600.68 L1918.0 601.30 L1920.0 601.92 L1922.0 602.54 L1924.0 603.16 L1926.0 603.77 L1928.0 604.39 L1930.0 605.00 L1932.0 605.61 L1934.0 606.23 L1936.0 606.83 L1938.0 607.44 L1940.0 608.05 L1942.0 608.66 L1944.0 609.26 L1946.0 609.86 L1948.0 610.47 L1950.0 611.07 L1952.0 611.67 L1954.0 612.27 L1956.0 612.86 L1958.0 613.46 L1960.0 614.06 L1962.0 614.65 L1964.0 615.24 L1966.0 615.83 L1968.0 616.42 L1970.0 617.01 L1972.0 617.60 L1974.0 618.19 L1976.0 618.78 L1978.0 619.36 L1980.0 619.94 L1982.0 620.53 L1984.0 621.11 L1986.0 621.69 L1988.0 622.27 L1990.0 622.85 L1992.0 623.42 L1994.0 624.00 L1996.0 624.57 L1998.0 625.15 L2000.0 625.72 L2002.0 626.29 L2004.0 626.86 L2006.0 627.43 L2008.0 628.00 L2010.0 628.57 L2012.0 629.14 L2014.0 629.70 L2016.0 630.26 L2018.0 630.83 L2020.0 631.39 L2022.0 631.95 L2024.0 632.51 L2026.0 633.07 L2028.0 633.63 L2030.0 634.19 L2032.0 634.74 L2034.0 635.30 L2036.0 635.85 L2037.0 636.13 L2038.9 636.66" stroke="#808080" stroke-linecap="butt"/>
<path d="M256.9 28.9 L740.0 28.90 L742.0 28.90 L744.0 28.90 L746.0 28.90 L748.0 28.90 L750.0 28.90 L752.0 28.90 L754.0 28.90 L756.0 28.90 L758.0 28.90 L760.0 28.90 L762.0 28.90 L764.0 28.90 L766.0 28.90 L768.0 28.92 L770.0 28.98 L772.0 29.04 L774.0 29.10 L776.0 29.17 L778.0 29.24 L780.0 29.32 L782.0 29.41 L784.0 29.50 L786.0 29.59 L788.0 29.69 L790.0 29.80 L792.0 29.92 L794.0 30.04 L796.0 30.16 L798.0 30.30 L800.0 30.44 L802.0 30.59 L804.0 30.74 L806.0 30.91 L808.0 31.08 L810.0 31.27 L812.0 31.46 L814.0 31.66 L816.0 31.87 L818.0 32.10 L820.0 32.33 L822.0 32.57 L824.0 32.83 L826.0 33.10 L828.0 33.38 L830.0 33.67 L832.0 33.98 L834.0 34.29 L836.0 34.62 L838.0 34.97 L840.0 35.33 L842.0 35.70 L844.0 36.09 L846.0 36.49 L848.0 36.91 L850.0 37.35 L852.0 37.80 L854.0 38.26 L856.0 38.74 L858.0 39.24 L860.0 39.76 L862.0 40.30 L864.0 40.85 L866.0 41.42 L868.0 42.01 L870.0 42.61 L872.0 43.23 L874.0 43.87 L876.0 44.53 L878.0 45.20 L880.0 45.89 L882.0 46.60 L884.0 47.32 L886.0 48.06 L888.0 48.82 L890.0 49.59 L892.0 50.38 L894.0 51.19 L896.0 52.01 L898.0 52.85 L900.0 53.71 L902.0 54.58 L904.0 55.47 L906.0 56.37 L908.0 57.29 L910.0 58.22 L912.0 59.17 L914.0 60.14 L916.0 61.12 L918.0 62.12 L920.0 63.13 L922.0 64.16 L924.0 65.20 L926.0 66.26 L928.0 67.33 L930.0 68.42 L932.0 69.53 L934.0 70.64 L936.0 71.78 L938.0 72.92 L940.0 74.08 L942.0 75.26 L944.0 76.45 L946.0 77.65 L948.0 78.86 L950.0 80.09 L952.0 81.33 L954.0 82.58 L956.0 83.84 L958.0 85.12 L960.0 86.40 L962.0 87.70 L964.0 89.00 L966.0 90.32 L968.0 91.65 L970.0 92.98 L972.0 94.33 L974.0 95.68 L976.0 97.05 L978.0 98.42 L980.0 99.80 L982.0 101.19 L984.0 102.58 L986.0 103.98 L988.0 105.39 L990.0 106.81 L992.0 108.23 L994.0 109.66 L996.0 111.10 L998.0 112.54 L1000.0 113.98 L1002.0 115.43 L1004.0 116.89 L1006.0 118.35 L1008.0 119.81 L1010.0 121.28 L1012.0 122.75 L1014.0 124.22 L1016.0 125.70 L1018.0 127.17 L1020.0 128.66 L1022.0 130.14 L1024.0 131.62 L1026.0 133.11 L1028.0 134.60 L1030.0 136.08 L1032.0 137.57 L1034.0 139.06 L1036.0 140.55 L1038.0 142.04 L1040.0 143.53 L1042.0 145.01 L1044.0 146.50 L1046.0 147.98 L1048.0 149.47 L1050.0 150.95 L1052.0 152.43 L1054.0 153.91 L1056.0 155.38 L1058.0 156.86 L1060.0 158.33 L1062.0 159.81 L1064.0 161.28 L1066.0 162.75 L1068.0 164.22 L1070.0 165.69 L1072.0 167.15 L1074.0 168.62 L1076.0 170.08 L1078.0 171.54 L1080.0 173.00 L1082.0 174.46 L1084.0 175.92 L1086.0 177.37 L1088.0 178.83 L1090.0 180.28 L1092.0 181.73 L1094.0 183.18 L1096.0 184.62 L1098.0 186.07 L1100.0 187.51 L1102.0 188.95 L1104.0 190.39 L1106.0 191.83 L1108.0 193.27 L1110.0 194.70 L1112.0 196.13 L1114.0 197.56 L1116.0 198.99 L1118.0 200.42 L1120.0 201.84 L1122.0 203.27 L1124.0 204.69 L1126.0 206.11 L1128.0 207.52 L1130.0 208.94 L1132.0 210.35 L1134.0 211.76 L1136.0 213.17 L1138.0 214.58 L1140.0 215.98 L1142.0 217.38 L1144.0 218.78 L1146.0 220.18 L1148.0 221.57 L1150.0 222.97 L1152.0 224.36 L1154.0 225.75 L1156.0 227.13 L1158.0 228.52 L1160.0 229.90 L1162.0 231.28 L1164.0 232.66 L1166.0 234.03 L1168.0 235.40 L1170.0 236.77 L1172.0 238.14 L1174.0 239.51 L1176.0 240.87 L1178.0 242.23 L1180.0 243.59 L1182.0 244.94 L1184.0 246.29 L1186.0 247.64 L1188.0 248.99 L1190.0 250.34 L1192.0 251.68 L1194.0 253.02 L1196.0 254.35 L1198.0 255.69 L1200.0 257.02 L1202.0 258.35 L1204.0 259.68 L1206.0 261.00 L1208.0 262.32 L1210.0 263.64 L1212.0 264.96 L1214.0 266.27 L1216.0 267.58 L1218.0 268.89 L1220.0 270.19 L1222.0 271.50 L1224.0 272.80 L1226.0 274.10 L1228.0 275.39 L1230.0 276.68 L1232.0 277.97 L1234.0 279.26 L1236.0 280.55 L1238.0 281.83 L1240.0 283.11 L1242.0 284.39 L1244.0 285.66 L1246.0 286.94 L1248.0 288.21 L1250.0 289.47 L1252.0 290.74 L1254.0 292.00 L1256.0 293.26 L1258.0 294.52 L1260.0 295.78 L1262.0 297.03 L1264.0 298.28 L1266.0 299.53 L1268.0 300.77 L1270.0 302.01 L1272.0 303.25 L1274.0 304.49 L1276.0 305.73 L1278.0 306.96 L1280.0 308.19 L1282.0 309.42 L1284.0 310.64 L1286.0 311.87 L1288.0 313.09 L1290.0 314.30 L1292.0 315.52 L1294.0 316.73 L1296.0 317.94 L1298.0 319.15 L1300.0 320.36 L1302.0 321.56 L1304.0 322.76 L1306.0 323.96 L1308.0 325.16 L1310.0 326.35 L1312.0 327.54 L1314.0 328.73 L1316.0 329.92 L1318.0 331.10 L1320.0 332.28 L1322.0 333.46 L1324.0 334.64 L1326.0 335.82 L1328.0 336.99 L1330.0 338.16 L1332.0 339.33 L1334.0 340.49 L1336.0 341.65 L1338.0 342.81 L1340.0 343.97 L1342.0 345.13 L1344.0 346.28 L1346.0 347.43 L1348.0 348.58 L1350.0 349.73 L1352.0 350.87 L1354.0 352.01 L1356.0 353.15 L1358.0 354.29 L1360.0 355.42 L1362.0 356.56 L1364.0 357.69 L1366.0 358.81 L1368.0 359.94 L1370.0 361.06 L1372.0 362.18 L1374.0 363.30 L1376.0 364.42 L1378.0 365.53 L1380.0 366.64 L1382.0 367.75 L1384.0 368.86 L1386.0 369.97 L1388.0 371.07 L1390.0 372.17 L1392.0 373.27 L1394.0 374.36 L1396.0 375.46 L1398.0 376.55 L1400.0 377.64 L1402.0 378.72 L1404.0 379.81 L1406.0 380.89 L1408.0 381.97 L1410.0 383.05 L1412.0 384.12 L1414.0 385.20 L1416.0 386.27 L1418.0 387.34 L1420.0 388.40 L1422.0 389.47 L1424.0 390.53 L1426.0 391.59 L1428.0 392.65 L1430.0 393.70 L1432.0 394.76 L1434.0 395.81 L1436.0 396.86 L1438.0 397.90 L1440.0 398.95 L1442.0 399.99 L1444.0 401.03 L1446.0 402.07 L1448.0 403.11 L1450.0 404.14 L1452.0 405.17 L1454.0 406.20 L1456.0 407.23 L1458.0 408.25 L1460.0 409.28 L1462.0 410.30 L1464.0 411.32 L1466.0 412.33 L1468.0 413.35 L1470.0 414.36 L1472.0 415.37 L1474.0 416.38 L1476.0 417.39 L1478.0 418.39 L1480.0 419.39 L1482.0 420.39 L1484.0 421.39 L1486.0 422.39 L1488.0 423.38 L1490.0 424.37 L1492.0 425.36 L1494.0 426.35 L1496.0 427.33 L1498.0 428.32 L1500.0 429.30 L1502.0 430.28 L1504.0 431.25 L1506.0 432.23 L1508.0 433.20 L1510.0 434.17 L1512.0 435.14 L1514.0 436.11 L1516.0 437.07 L1518.0 438.03 L1520.0 438.99 L1522.0 439.95 L1524.0 440.91 L1526.0 441.86 L1528.0 442.82 L1530.0 443.77 L1532.0 444.72 L1534.0 445.66 L1536.0 446.61 L1538.0 447.55 L1540.0 448.49 L1542.0 449.43 L1544.0 450.36 L1546.0 451.30 L1548.0 452.23 L1550.0 453.16 L1552.0 454.09 L1554.0 455.02 L1556.0 455.94 L1558.0 456.86 L1560.0 457.78 L1562.0 458.70 L1564.0 459.62 L1566.0 460.53 L1568.0 461.45 L1570.0 462.36 L1572.0 463.27 L1574.0 464.17 L1576.0 465.08 L1578.0 465.98 L1580.0 466.88 L1582.0 467.78 L1584.0 468.68 L1586.0 469.57 L1588.0 470.47 L1590.0 471.36 L1592.0 472.25 L1594.0 473.14 L1596.0 474.02 L1598.0 474.91 L1600.0 475.79 L1602.0 476.67 L1604.0 477.55 L1606.0 478.42 L1608.0 479.30 L1610.0 480.17 L1612.0 481.04 L1614.0 481.91 L1616.0 482.78 L1618.0 483.64 L1620.0 484.51 L1622.0 485.37 L1624.0 486.23 L1626.0 487.08 L1628.0 487.94 L1630.0 488.79 L1632.0 489.65 L1634.0 490.50 L1636.0 491.35 L1638.0 492.19 L1640.0 493.04 L1642.0 493.88 L1644.0 494.72 L1646.0 495.56 L1648.0 496.40 L1650.0 497.24 L1652.0 498.07 L1654.0 498.90 L1656.0 499.73 L1658.0 500.56 L1660.0 501.39 L1662.0 502.21 L1664.0 503.04 L1666.0 503.86 L1668.0 504.68 L1670.0 505.50 L1672.0 506.31 L1674.0 507.13 L1676.0 507.94 L1678.0 508.75 L1680.0 509.56 L1682.0 510.37 L1684.0 511.17 L1686.0 511.98 L1688.0 512.78 L1690.0 513.58 L1692.0 514.38 L1694.0 515.18 L1696.0 515.97 L1698.0 516.76 L1700.0 517.56 L1702.0 518.35 L1704.0 519.14 L1706.0 519.92 L1708.0 520.71 L1710.0 521.49 L1712.0 522.27 L1714.0 523.05 L1716.0 523.83 L1718.0 524.61 L1720.0 525.38 L1722.0 526.16 L1724.0 526.93 L1726.0 527.70 L1728.0 528.47 L1730.0 529.23 L1732.0 530.00 L1734.0 530.76 L1736.0 531.52 L1738.0 532.28 L1740.0 533.04 L1742.0 533.80 L1744.0 534.55 L1746.0 535.31 L1748.0 536.06 L1750.0 536.81 L1752.0 537.56 L1754.0 538.30 L1756.0 539.05 L1758.0 539.79 L1760.0 540.54 L1762.0 541.28 L1764.0 542.01 L1766.0 542.75 L1768.0 543.49 L1770.0 544.22 L1772.0 544.95 L1774.0 545.69 L1776.0 546.41 L1778.0 547.14 L1780.0 547.87 L1782.0 548.59 L1784.0 549.32 L1786.0 550.04 L1788.0 550.76 L1790.0 551.48 L1792.0 552.19 L1794.0 552.91 L1796.0 553.62 L1798.0 554.34 L1800.0 555.05 L1802.0 555.76 L1804.0 556.46 L1806.0 557.17 L1808.0 557.87 L1810.0 558.58 L1812.0 559.28 L1814.0 559.98 L1816.0 560.68 L1818.0 561.37 L1820.0 562.07 L1822.0 562.76 L1824.0 563.46 L1826.0 564.15 L1828.0 564.84 L1830.0 565.53 L1832.0 566.21 L1834.0 566.90 L1836.0 567.58 L1838.0 568.26 L1840.0 568.94 L1842.0 569.62 L1844.0 570.30 L1846.0 570.98 L1848.0 571.65 L1850.0 572.33 L1852.0 573.00 L1854.0 573.67 L1856.0 574.34 L1858.0 575.01 L1860.0 575.67 L1862.0 576.34 L1864.0 577.00 L1866.0 577.66 L1868.0 578.32 L1870.0 578.98 L1872.0 579.64 L1874.0 580.30 L1876.0 580.95 L1878.0 581.60 L1880.0 582.26 L1882.0 582.91 L1884.0 583.56 L1886.0 584.21 L1888.0 584.85 L1890.0 585.50 L1892.0 586.14 L1894.0 586.78 L1896.0 587.43 L1898.0 588.07 L1900.0 588.70 L1902.0 589.34 L1904.0 589.98 L1906.0 590.61 L1908.0 591.24 L1910.0 591.88 L1912.0 592.51 L1914.0 593.14 L1916.0 593.76 L1918.0 594.39 L1920.0 595.01 L1922.0 595.64 L1924.0 596.26 L1926.0 596.88 L1928.0 597.50 L1930.0 598.12 L1932.0 598.74 L1934.0 599.35 L1936.0 599.97 L1938.0 600.58 L1940.0 601.19 L1942.0 601.80 L1944.0 602.41 L1946.0 603.02 L1948.0 603.63 L1950.0 604.23 L1952.0 604.84 L1954.0 605.44 L1956.0 606.04 L1958.0 606.64 L1960.0 607.24 L1962.0 607.84 L1964.0 608.44 L1966.0 609.03 L1968.0 609.63 L1970.0 610.22 L1972.0 610.81 L1974.0 611.40 L1976.0 611.99 L1978.0 612.58 L1980.0 613.17 L1982.0 613.76 L1984.0 614.34 L1986.0 614.92 L1988.0 615.51 L1990.0 616.09 L1992.0 616.67 L1994.0 617.25 L1996.0 617.82 L1998.0 618.40 L2000.0 618.97 L2002.0 619.55 L2004.0 620.12 L2006.0 620.69 L2008.0 621.26 L2010.0 621.83 L2012.0 622.40 L2014.0 622.97 L2016.0 623.53 L2018.0 624.10 L2020.0 624.66 L2022.0 625.22 L2024.0 625.79 L2026.0 626.35 L2028.0 626.90 L2030.0 627.46 L2032.0 628.02 L2034.0 628.57 L2036.0 629.13 L2037.0 629.41 L2038.9 629.94" stroke="#9900cc" stroke-linecap="butt"/>
<path d="M259.0 28.9 L307.0 28.9 M349.0 28.9 L397.0 28.9 M439.0 28.9 L487.0 28.9 M529.0 28.9 L577.0 28.9 M619.0 28.9 L667.0 28.9 M709.0 28.9 L718.0 28.9 L730.0 29.8 L740.0 31.5 L748.0 33.4 L757.0 36.7" stroke="#0000ff" stroke-linecap="butt"/>
<path d="M786.3 66.5 L807.2 105.6 M822.7 148.7 L835.5 191.6 M846.4 235.9 L856.3 278.8 M866.4 324.8 L875.6 366.7 M886.5 412.6 L898.2 453.5 M914.2 499.3 L930.1 538.2 M951.0 580.9 L972.4 617.6 M1000.4 656.7 L1027.2 690.2 M1060.6 724.9 L1092.9 753.4 M1129.0 781.7 L1164.9 806.9 M1204.3 831.4 L1241.6 852.5 M1284.5 873.0 L1323.5 892.0 M1366.9 911.6 L1408.1 924.9 M1451.7 940.2 L1493.2 953.5 M1538.9 965.4 L1580.7 976.9 M1627.2 986.5 L1668.9 996.1 M1714.5 1006.4 L1757.6 1014.0 M1803.7 1022.6 L1847.3 1029.2 M1892.5 1036.3 L1936.3 1043.0 M1981.3 1048.5 L2026.0 1054.2" stroke="#0000ff" stroke-linecap="round"/>
<path d="M259.0 28.9 L307.0 28.9 M349.0 28.9 L397.0 28.9 M439.0 28.9 L487.0 28.9 M529.0 28.9 L577.0 28.9 M619.0 28.9 L667.0 28.9 M709.0 28.9 L718.0 28.9 L730.0 29.8 L740.0 31.5 L748.0 33.4 L757.0 36.7" stroke="#000000" stroke-linecap="butt"/>
<path d="M787.2 66.8 L807.8 104.7 M824.1 148.4 L837.9 190.6 M851.2 235.3 L862.9 276.8 M875.9 322.0 L886.9 364.1 M898.5 409.3 L909.5 450.9 M922.6 497.4 L935.3 537.3 M954.4 580.1 L976.6 617.6 M1003.1 656.6 L1030.4 689.0 M1065.1 724.0 L1097.2 750.3 M1134.4 778.5 L1171.0 803.4 M1210.8 827.1 L1249.8 847.4 M1291.8 867.8 L1331.8 884.8 M1374.9 903.6 L1416.1 915.9 M1461.1 931.3 L1501.9 943.1 M1547.8 955.5 L1590.1 966.1 M1636.1 976.7 L1678.2 985.0 M1723.3 994.7 L1767.4 1002.7 M1812.5 1010.8 L1856.5 1017.5 M1901.7 1024.5 L1945.3 1031.2 M1991.3 1037.7 L2037.0 1043.5" stroke="#000000" stroke-linecap="round"/>
<path d="M259.0 28.9 L307.0 28.9 M349.0 28.9 L397.0 28.9 M439.0 28.9 L487.0 28.9 M529.0 28.9 L577.0 28.9 M619.0 28.9 L667.0 28.9 M709.0 28.9 L718.0 28.9 L730.0 29.7 L740.0 31.2 L748.0 33.1 L757.0 36.1" stroke="#ff0000" stroke-linecap="butt"/>
<path d="M787.7 66.4 L808.4 103.7 M825.4 148.0 L840.0 189.6 M853.3 233.9 L865.4 274.2 M879.2 320.0 L889.5 362.1 M901.9 407.9 L913.5 448.2 M928.1 495.4 L942.7 534.0 M963.7 576.8 L987.3 612.6 M1016.5 650.7 L1045.4 680.4 M1082.1 713.3 L1115.3 738.4 M1154.1 765.0 L1191.3 788.0 M1232.6 810.8 L1271.6 829.7 M1313.7 849.0 L1354.5 865.2 M1397.9 882.3 L1439.2 896.2 M1483.9 910.5 L1525.1 922.8 M1571.1 935.3 L1612.9 945.7 M1658.0 956.0 L1701.2 966.0 M1746.9 975.1 L1789.3 984.1 M1835.6 991.6 L1878.7 999.3 M1924.6 1006.3 L1967.7 1013.0 M2013.4 1019.5 L2037.0 1022.5" stroke="#ff0000" stroke-linecap="round"/>
<path d="M259.0 28.9 L307.0 28.9 M349.0 28.9 L397.0 28.9 M439.0 28.9 L487.0 28.9 M529.0 28.9 L577.0 28.9 M619.0 28.9 L667.0 28.9 M709.0 28.9 L718.0 28.9 L730.0 29.5 L740.0 30.8 L748.0 32.2 L757.0 34.8" stroke="#33cc33" stroke-linecap="butt"/>
<path d="M789.7 63.7 L811.1 101.0 M829.4 144.7 L844.7 184.9 M859.3 229.9 L872.8 270.8 M886.6 316.0 L897.5 356.8 M910.6 403.3 L923.4 443.5 M940.3 487.9 L959.1 525.7 M986.4 565.7 L1013.0 597.8 M1046.5 633.4 L1077.1 661.9 M1114.1 692.7 L1149.1 717.2 M1187.7 744.2 L1225.5 765.5 M1265.8 787.9 L1305.8 807.9 M1346.9 827.2 L1388.7 843.4 M1432.0 861.4 L1472.8 875.4 M1517.7 889.8 L1559.0 902.5 M1604.3 915.0 L1646.1 925.5 M1691.3 936.5 L1734.1 946.3 M1780.2 956.0 L1822.2 965.0 M1869.0 973.6 L1911.4 981.2 M1957.6 988.7 L2000.2 995.9" stroke="#33cc33" stroke-linecap="round"/>
<path d="M259.0 28.9 L307.0 28.9 M349.0 28.9 L397.0 28.9 M439.0 28.9 L487.0 28.9 M529.0 28.9 L577.0 28.9 M619.0 28.9 L667.0 28.9 M709.0 28.9 L718.0 28.9 L730.0 29.4 L740.0 30.4 L748.0 31.6 L757.0 33.7" stroke="#ff6600" stroke-linecap="butt"/>
<path d="M792.5 59.7 L815.6 95.7 M836.2 137.9 L854.0 177.7 M870.6 221.9 L884.1 261.5 M898.6 308.0 L910.2 348.8 M925.4 393.9 L940.7 433.5 M963.8 475.7 L987.5 510.3 M1016.4 548.2 L1045.5 580.3 M1079.2 613.5 L1111.0 641.4 M1148.8 671.5 L1183.2 695.7 M1223.0 722.4 L1260.3 743.5 M1301.1 766.2 L1340.1 785.1 M1382.0 804.4 L1423.1 822.2 M1467.3 839.4 L1507.1 853.8 M1551.8 869.0 L1592.8 881.3 M1638.9 894.8 L1680.2 905.6 M1725.8 917.3 L1768.4 927.1 M1813.9 936.8 L1856.5 945.8 M1902.7 954.9 L1945.3 962.9 M1990.9 971.0 L2033.9 978.3" stroke="#ff6600" stroke-linecap="round"/>
<path d="M259.0 28.9 L307.0 28.9 M349.0 28.9 L397.0 28.9 M439.0 28.9 L487.0 28.9 M529.0 28.9 L577.0 28.9 M619.0 28.9 L667.0 28.9 M709.0 28.9 L718.0 28.9 L730.0 29.3 L740.0 30.0 L748.0 30.8 L757.0 32.5" stroke="#808080" stroke-linecap="butt"/>
<path d="M793.9 55.0 L819.5 89.1 M845.6 129.9 L863.3 167.7 M882.0 211.9 L895.5 251.5 M910.8 297.3 L924.7 337.6 M942.3 381.8 L962.5 419.6 M988.6 459.7 L1013.6 493.9 M1044.0 530.6 L1073.7 561.2 M1107.8 594.2 L1140.3 621.8 M1178.1 651.9 L1211.9 676.0 M1252.3 703.0 L1288.3 724.8 M1329.1 747.5 L1368.1 767.5 M1411.1 787.2 L1451.1 804.3 M1495.3 822.0 L1535.1 836.6 M1580.0 851.4 L1621.2 864.7 M1665.4 878.5 L1708.3 889.5 M1752.6 901.6 L1795.3 911.5 M1840.9 922.1 L1883.4 931.5 M1929.1 940.8 L1972.2 948.8 M2017.9 957.0 L2037.0 960.5" stroke="#808080" stroke-linecap="round"/>
<path d="M259.0 28.9 L307.0 28.9 M349.0 28.9 L397.0 28.9 M439.0 28.9 L487.0 28.9 M529.0 28.9 L577.0 28.9 M619.0 28.9 L667.0 28.9 M709.0 28.9 L718.0 28.9 L730.0 29.1 L740.0 29.4 L748.0 29.8 L757.0 30.8" stroke="#9900cc" stroke-linecap="butt"/>
<path d="M796.6 50.3 L822.9 83.8 M849.8 123.9 L869.8 161.0 M888.1 204.6 L902.7 244.8 M918.8 290.0 L932.7 330.2 M953.7 373.1 L975.8 410.4 M1002.6 449.0 L1027.2 482.6 M1059.9 519.8 L1088.8 550.3 M1123.8 582.6 L1155.4 610.3 M1192.6 640.1 L1227.8 665.0 M1267.8 691.6 L1303.8 713.4 M1344.7 736.1 L1383.6 756.1 M1425.7 775.8 L1465.7 793.9 M1508.8 811.0 L1549.6 826.8 M1593.9 842.0 L1634.7 855.8 M1680.1 868.4 L1722.4 880.6 M1767.3 892.5 L1810.2 903.0 M1855.6 913.3 L1898.3 922.7 M1943.8 932.5 L1986.5 940.9 M2033.0 950.2 L2037.0 951.0" stroke="#9900cc" stroke-linecap="round"/>
</g>
<g font-family="'Liberation Sans', Arial, Helvetica, sans-serif" fill="#000">
<line x1="310" y1="744" x2="364" y2="744" stroke="#0000ff" stroke-width="4.2" stroke-linecap="round"/>
<text transform="translate(408.3,760.4) scale(1,1.04)" font-size="50.5" xml:space="preserve">0 Wh</text>
<line x1="310" y1="800" x2="364" y2="800" stroke="#000000" stroke-width="4.2" stroke-linecap="round"/>
<text transform="translate(408.3,816.4) scale(1,1.04)" font-size="50.5" xml:space="preserve">1,000 Wh</text>
<line x1="310" y1="856" x2="364" y2="856" stroke="#ff0000" stroke-width="4.2" stroke-linecap="round"/>
<text transform="translate(408.3,872.4) scale(1,1.04)" font-size="50.5" xml:space="preserve">2,000 Wh</text>
<line x1="310" y1="912" x2="364" y2="912" stroke="#33cc33" stroke-width="4.2" stroke-linecap="round"/>
<text transform="translate(408.3,928.4) scale(1,1.04)" font-size="50.5" xml:space="preserve">3,000 Wh</text>
<line x1="310" y1="968" x2="364" y2="968" stroke="#ff6600" stroke-width="4.2" stroke-linecap="round"/>
<text transform="translate(408.3,984.4) scale(1,1.04)" font-size="50.5" xml:space="preserve">4,000 Wh</text>
<line x1="310" y1="1024" x2="364" y2="1024" stroke="#808080" stroke-width="4.2" stroke-linecap="round"/>
<text transform="translate(408.3,1040.4) scale(1,1.04)" font-size="50.5" xml:space="preserve">5,000 Wh</text>
<line x1="310" y1="1080" x2="364" y2="1080" stroke="#9900cc" stroke-width="4.2" stroke-linecap="round"/>
<text transform="translate(408.3,1096.4) scale(1,1.04)" font-size="50.5" xml:space="preserve">6,000 Wh</text>
</g>
</svg></body></html>
